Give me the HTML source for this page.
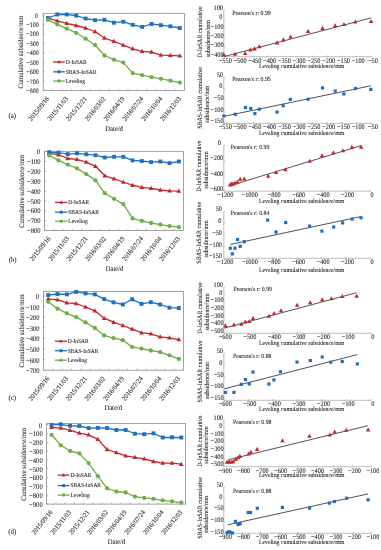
<!DOCTYPE html>
<html><head><meta charset="utf-8"><style>
html,body{margin:0;padding:0;background:#fff;}
svg{display:block;filter:blur(0.55px);}
text{font-family:"Liberation Serif",serif;stroke:#222;stroke-width:0.08px;text-rendering:geometricPrecision;}
</style></head><body>
<svg width="381" height="550" viewBox="0 0 381 550">
<rect width="381" height="550" fill="#fff"/>
<rect x="43.2" y="13.3" width="141.3" height="77.2" fill="none" stroke="#8a8a8a" stroke-width="0.8"/>
<line x1="43.2" y1="15.2" x2="44.8" y2="15.2" stroke="#8a8a8a" stroke-width="0.6"/>
<text x="38.1" y="17.5" font-size="6.6" text-anchor="end" fill="#1a1a1a" textLength="3" lengthAdjust="spacingAndGlyphs">0</text>
<line x1="43.2" y1="24.63" x2="44.8" y2="24.63" stroke="#8a8a8a" stroke-width="0.6"/>
<text x="38.7" y="26.93" font-size="6.6" text-anchor="end" fill="#1a1a1a" textLength="12.38" lengthAdjust="spacingAndGlyphs">−100</text>
<line x1="43.2" y1="34.06" x2="44.8" y2="34.06" stroke="#8a8a8a" stroke-width="0.6"/>
<text x="38.7" y="36.36" font-size="6.6" text-anchor="end" fill="#1a1a1a" textLength="12.38" lengthAdjust="spacingAndGlyphs">−200</text>
<line x1="43.2" y1="43.49" x2="44.8" y2="43.49" stroke="#8a8a8a" stroke-width="0.6"/>
<text x="38.7" y="45.79" font-size="6.6" text-anchor="end" fill="#1a1a1a" textLength="12.38" lengthAdjust="spacingAndGlyphs">−300</text>
<line x1="43.2" y1="52.92" x2="44.8" y2="52.92" stroke="#8a8a8a" stroke-width="0.6"/>
<text x="38.7" y="55.22" font-size="6.6" text-anchor="end" fill="#1a1a1a" textLength="12.38" lengthAdjust="spacingAndGlyphs">−400</text>
<line x1="43.2" y1="62.35" x2="44.8" y2="62.35" stroke="#8a8a8a" stroke-width="0.6"/>
<text x="38.7" y="64.65" font-size="6.6" text-anchor="end" fill="#1a1a1a" textLength="12.38" lengthAdjust="spacingAndGlyphs">−500</text>
<line x1="43.2" y1="71.78" x2="44.8" y2="71.78" stroke="#8a8a8a" stroke-width="0.6"/>
<text x="38.7" y="74.08" font-size="6.6" text-anchor="end" fill="#1a1a1a" textLength="12.38" lengthAdjust="spacingAndGlyphs">−600</text>
<line x1="43.2" y1="81.21" x2="44.8" y2="81.21" stroke="#8a8a8a" stroke-width="0.6"/>
<text x="38.7" y="83.51" font-size="6.6" text-anchor="end" fill="#1a1a1a" textLength="12.38" lengthAdjust="spacingAndGlyphs">−700</text>
<line x1="43.2" y1="90.64" x2="44.8" y2="90.64" stroke="#8a8a8a" stroke-width="0.6"/>
<text x="38.7" y="92.94" font-size="6.6" text-anchor="end" fill="#1a1a1a" textLength="12.38" lengthAdjust="spacingAndGlyphs">−800</text>
<line x1="52.62" y1="90.5" x2="52.62" y2="88.9" stroke="#8a8a8a" stroke-width="0.6"/>
<line x1="62.04" y1="90.5" x2="62.04" y2="88.9" stroke="#8a8a8a" stroke-width="0.6"/>
<line x1="71.46" y1="90.5" x2="71.46" y2="88.9" stroke="#8a8a8a" stroke-width="0.6"/>
<line x1="80.88" y1="90.5" x2="80.88" y2="88.9" stroke="#8a8a8a" stroke-width="0.6"/>
<line x1="90.3" y1="90.5" x2="90.3" y2="88.9" stroke="#8a8a8a" stroke-width="0.6"/>
<line x1="99.72" y1="90.5" x2="99.72" y2="88.9" stroke="#8a8a8a" stroke-width="0.6"/>
<line x1="109.14" y1="90.5" x2="109.14" y2="88.9" stroke="#8a8a8a" stroke-width="0.6"/>
<line x1="118.56" y1="90.5" x2="118.56" y2="88.9" stroke="#8a8a8a" stroke-width="0.6"/>
<line x1="127.98" y1="90.5" x2="127.98" y2="88.9" stroke="#8a8a8a" stroke-width="0.6"/>
<line x1="137.4" y1="90.5" x2="137.4" y2="88.9" stroke="#8a8a8a" stroke-width="0.6"/>
<line x1="146.82" y1="90.5" x2="146.82" y2="88.9" stroke="#8a8a8a" stroke-width="0.6"/>
<line x1="156.24" y1="90.5" x2="156.24" y2="88.9" stroke="#8a8a8a" stroke-width="0.6"/>
<line x1="165.66" y1="90.5" x2="165.66" y2="88.9" stroke="#8a8a8a" stroke-width="0.6"/>
<line x1="175.08" y1="90.5" x2="175.08" y2="88.9" stroke="#8a8a8a" stroke-width="0.6"/>
<text x="49.61" y="99" font-size="6.99" text-anchor="end" fill="#1a1a1a" transform="rotate(-51 49.61 99)" textLength="28.93" lengthAdjust="spacingAndGlyphs">2015/09/16</text>
<text x="68.45" y="99" font-size="6.99" text-anchor="end" fill="#1a1a1a" transform="rotate(-51 68.45 99)" textLength="28.69" lengthAdjust="spacingAndGlyphs">2015/11/03</text>
<text x="87.29" y="99" font-size="6.99" text-anchor="end" fill="#1a1a1a" transform="rotate(-51 87.29 99)" textLength="28.93" lengthAdjust="spacingAndGlyphs">2015/12/21</text>
<text x="106.13" y="99" font-size="6.99" text-anchor="end" fill="#1a1a1a" transform="rotate(-51 106.13 99)" textLength="28.93" lengthAdjust="spacingAndGlyphs">2016/03/02</text>
<text x="124.97" y="99" font-size="6.99" text-anchor="end" fill="#1a1a1a" transform="rotate(-51 124.97 99)" textLength="28.93" lengthAdjust="spacingAndGlyphs">2016/04/19</text>
<text x="143.81" y="99" font-size="6.99" text-anchor="end" fill="#1a1a1a" transform="rotate(-51 143.81 99)" textLength="28.93" lengthAdjust="spacingAndGlyphs">2016/07/24</text>
<text x="162.65" y="99" font-size="6.99" text-anchor="end" fill="#1a1a1a" transform="rotate(-51 162.65 99)" textLength="28.93" lengthAdjust="spacingAndGlyphs">2016/10/04</text>
<text x="181.49" y="99" font-size="6.99" text-anchor="end" fill="#1a1a1a" transform="rotate(-51 181.49 99)" textLength="28.93" lengthAdjust="spacingAndGlyphs">2016/12/03</text>
<polyline points="47.91,18.1 57.33,20.8 66.75,23.3 76.17,25.5 85.59,28 95.01,31.5 104.43,38 113.85,41.4 123.27,45 132.69,48.8 142.11,51.3 151.53,52.1 160.95,55.1 170.37,55.3 179.79,55.9" fill="none" stroke="#C0282D" stroke-width="1.3" stroke-linejoin="round"/>
<path d="M47.91 15.56L50.26 19.79L45.56 19.79Z" fill="#C0282D"/>
<path d="M57.33 18.26L59.68 22.49L54.98 22.49Z" fill="#C0282D"/>
<path d="M66.75 20.76L69.1 24.99L64.4 24.99Z" fill="#C0282D"/>
<path d="M76.17 22.96L78.52 27.19L73.82 27.19Z" fill="#C0282D"/>
<path d="M85.59 25.46L87.94 29.69L83.24 29.69Z" fill="#C0282D"/>
<path d="M95.01 28.96L97.36 33.19L92.66 33.19Z" fill="#C0282D"/>
<path d="M104.43 35.46L106.78 39.69L102.08 39.69Z" fill="#C0282D"/>
<path d="M113.85 38.86L116.2 43.09L111.5 43.09Z" fill="#C0282D"/>
<path d="M123.27 42.46L125.62 46.69L120.92 46.69Z" fill="#C0282D"/>
<path d="M132.69 46.26L135.04 50.49L130.34 50.49Z" fill="#C0282D"/>
<path d="M142.11 48.76L144.46 52.99L139.76 52.99Z" fill="#C0282D"/>
<path d="M151.53 49.56L153.88 53.79L149.18 53.79Z" fill="#C0282D"/>
<path d="M160.95 52.56L163.3 56.79L158.6 56.79Z" fill="#C0282D"/>
<path d="M170.37 52.76L172.72 56.99L168.02 56.99Z" fill="#C0282D"/>
<path d="M179.79 53.36L182.14 57.59L177.44 57.59Z" fill="#C0282D"/>
<polyline points="47.91,18.1 57.33,14.5 66.75,14.5 76.17,15.6 85.59,18.5 95.01,20.2 104.43,19.8 113.85,22.7 123.27,21.7 132.69,24.8 142.11,26.9 151.53,24 160.95,25.2 170.37,26.3 179.79,28" fill="none" stroke="#1F6FC0" stroke-width="1.3" stroke-linejoin="round"/>
<rect x="45.96" y="16.15" width="3.9" height="3.9" fill="#1F6FC0"/>
<rect x="55.38" y="12.55" width="3.9" height="3.9" fill="#1F6FC0"/>
<rect x="64.8" y="12.55" width="3.9" height="3.9" fill="#1F6FC0"/>
<rect x="74.22" y="13.65" width="3.9" height="3.9" fill="#1F6FC0"/>
<rect x="83.64" y="16.55" width="3.9" height="3.9" fill="#1F6FC0"/>
<rect x="93.06" y="18.25" width="3.9" height="3.9" fill="#1F6FC0"/>
<rect x="102.48" y="17.85" width="3.9" height="3.9" fill="#1F6FC0"/>
<rect x="111.9" y="20.75" width="3.9" height="3.9" fill="#1F6FC0"/>
<rect x="121.32" y="19.75" width="3.9" height="3.9" fill="#1F6FC0"/>
<rect x="130.74" y="22.85" width="3.9" height="3.9" fill="#1F6FC0"/>
<rect x="140.16" y="24.95" width="3.9" height="3.9" fill="#1F6FC0"/>
<rect x="149.58" y="22.05" width="3.9" height="3.9" fill="#1F6FC0"/>
<rect x="159" y="23.25" width="3.9" height="3.9" fill="#1F6FC0"/>
<rect x="168.42" y="24.35" width="3.9" height="3.9" fill="#1F6FC0"/>
<rect x="177.84" y="26.05" width="3.9" height="3.9" fill="#1F6FC0"/>
<polyline points="47.91,19.8 57.33,24.4 66.75,28.6 76.17,32.8 85.59,38.7 95.01,45 104.43,55.5 113.85,59.7 123.27,62.6 132.69,73.1 142.11,75.2 151.53,77.1 160.95,78.8 170.37,80.7 179.79,82.6" fill="none" stroke="#6FAE45" stroke-width="1.3" stroke-linejoin="round"/>
<circle cx="47.91" cy="19.8" r="2.15" fill="#6FAE45"/>
<circle cx="57.33" cy="24.4" r="2.15" fill="#6FAE45"/>
<circle cx="66.75" cy="28.6" r="2.15" fill="#6FAE45"/>
<circle cx="76.17" cy="32.8" r="2.15" fill="#6FAE45"/>
<circle cx="85.59" cy="38.7" r="2.15" fill="#6FAE45"/>
<circle cx="95.01" cy="45" r="2.15" fill="#6FAE45"/>
<circle cx="104.43" cy="55.5" r="2.15" fill="#6FAE45"/>
<circle cx="113.85" cy="59.7" r="2.15" fill="#6FAE45"/>
<circle cx="123.27" cy="62.6" r="2.15" fill="#6FAE45"/>
<circle cx="132.69" cy="73.1" r="2.15" fill="#6FAE45"/>
<circle cx="142.11" cy="75.2" r="2.15" fill="#6FAE45"/>
<circle cx="151.53" cy="77.1" r="2.15" fill="#6FAE45"/>
<circle cx="160.95" cy="78.8" r="2.15" fill="#6FAE45"/>
<circle cx="170.37" cy="80.7" r="2.15" fill="#6FAE45"/>
<circle cx="179.79" cy="82.6" r="2.15" fill="#6FAE45"/>
<line x1="53.1" y1="62" x2="64.9" y2="62" stroke="#C0282D" stroke-width="1.3"/>
<path d="M59 60L60.85 63.33L57.15 63.33Z" fill="#C0282D"/>
<text x="65.7" y="63.8" font-size="6" text-anchor="start" fill="#1a1a1a" textLength="20.89" lengthAdjust="spacingAndGlyphs">D-InSAR</text>
<line x1="53.1" y1="71.8" x2="64.9" y2="71.8" stroke="#1F6FC0" stroke-width="1.3"/>
<rect x="57.5" y="70.3" width="3" height="3" fill="#1F6FC0"/>
<text x="65.7" y="73.6" font-size="6" text-anchor="start" fill="#1a1a1a" textLength="30.59" lengthAdjust="spacingAndGlyphs">SBAS-InSAR</text>
<line x1="53.1" y1="81" x2="64.9" y2="81" stroke="#6FAE45" stroke-width="1.3"/>
<circle cx="59" cy="81" r="1.75" fill="#6FAE45"/>
<text x="65.7" y="82.8" font-size="6" text-anchor="start" fill="#1a1a1a" textLength="19.37" lengthAdjust="spacingAndGlyphs">Leveling</text>
<text x="23" y="52.05" font-size="7.21" text-anchor="middle" fill="#1a1a1a" transform="rotate(-90 23 52.05)" textLength="72.95" lengthAdjust="spacingAndGlyphs">Cumulative subsidence/mm</text>
<text x="105.2" y="130.7" font-size="7.26" text-anchor="start" fill="#1a1a1a" textLength="17.59" lengthAdjust="spacingAndGlyphs">Date/d</text>
<text x="8.5" y="117.9" font-size="7.48" text-anchor="start" fill="#1a1a1a" textLength="7.55" lengthAdjust="spacingAndGlyphs">(a)</text>
<rect x="44.6" y="151.3" width="138.9" height="79.1" fill="none" stroke="#8a8a8a" stroke-width="0.8"/>
<line x1="44.6" y1="151.7" x2="46.2" y2="151.7" stroke="#8a8a8a" stroke-width="0.6"/>
<text x="40" y="154.25" font-size="7.26" text-anchor="end" fill="#1a1a1a" textLength="3.3" lengthAdjust="spacingAndGlyphs">0</text>
<line x1="44.6" y1="161.55" x2="46.2" y2="161.55" stroke="#8a8a8a" stroke-width="0.6"/>
<text x="40.6" y="164.1" font-size="7.26" text-anchor="end" fill="#1a1a1a" textLength="13.62" lengthAdjust="spacingAndGlyphs">−100</text>
<line x1="44.6" y1="171.4" x2="46.2" y2="171.4" stroke="#8a8a8a" stroke-width="0.6"/>
<text x="40.6" y="173.95" font-size="7.26" text-anchor="end" fill="#1a1a1a" textLength="13.62" lengthAdjust="spacingAndGlyphs">−200</text>
<line x1="44.6" y1="181.25" x2="46.2" y2="181.25" stroke="#8a8a8a" stroke-width="0.6"/>
<text x="40.6" y="183.8" font-size="7.26" text-anchor="end" fill="#1a1a1a" textLength="13.62" lengthAdjust="spacingAndGlyphs">−300</text>
<line x1="44.6" y1="191.1" x2="46.2" y2="191.1" stroke="#8a8a8a" stroke-width="0.6"/>
<text x="40.6" y="193.65" font-size="7.26" text-anchor="end" fill="#1a1a1a" textLength="13.62" lengthAdjust="spacingAndGlyphs">−400</text>
<line x1="44.6" y1="200.95" x2="46.2" y2="200.95" stroke="#8a8a8a" stroke-width="0.6"/>
<text x="40.6" y="203.5" font-size="7.26" text-anchor="end" fill="#1a1a1a" textLength="13.62" lengthAdjust="spacingAndGlyphs">−500</text>
<line x1="44.6" y1="210.8" x2="46.2" y2="210.8" stroke="#8a8a8a" stroke-width="0.6"/>
<text x="40.6" y="213.35" font-size="7.26" text-anchor="end" fill="#1a1a1a" textLength="13.62" lengthAdjust="spacingAndGlyphs">−600</text>
<line x1="44.6" y1="220.65" x2="46.2" y2="220.65" stroke="#8a8a8a" stroke-width="0.6"/>
<text x="40.6" y="223.2" font-size="7.26" text-anchor="end" fill="#1a1a1a" textLength="13.62" lengthAdjust="spacingAndGlyphs">−700</text>
<line x1="44.6" y1="230.5" x2="46.2" y2="230.5" stroke="#8a8a8a" stroke-width="0.6"/>
<text x="40.6" y="233.05" font-size="7.26" text-anchor="end" fill="#1a1a1a" textLength="13.62" lengthAdjust="spacingAndGlyphs">−800</text>
<line x1="53.86" y1="230.4" x2="53.86" y2="228.8" stroke="#8a8a8a" stroke-width="0.6"/>
<line x1="63.12" y1="230.4" x2="63.12" y2="228.8" stroke="#8a8a8a" stroke-width="0.6"/>
<line x1="72.38" y1="230.4" x2="72.38" y2="228.8" stroke="#8a8a8a" stroke-width="0.6"/>
<line x1="81.64" y1="230.4" x2="81.64" y2="228.8" stroke="#8a8a8a" stroke-width="0.6"/>
<line x1="90.9" y1="230.4" x2="90.9" y2="228.8" stroke="#8a8a8a" stroke-width="0.6"/>
<line x1="100.16" y1="230.4" x2="100.16" y2="228.8" stroke="#8a8a8a" stroke-width="0.6"/>
<line x1="109.42" y1="230.4" x2="109.42" y2="228.8" stroke="#8a8a8a" stroke-width="0.6"/>
<line x1="118.68" y1="230.4" x2="118.68" y2="228.8" stroke="#8a8a8a" stroke-width="0.6"/>
<line x1="127.94" y1="230.4" x2="127.94" y2="228.8" stroke="#8a8a8a" stroke-width="0.6"/>
<line x1="137.2" y1="230.4" x2="137.2" y2="228.8" stroke="#8a8a8a" stroke-width="0.6"/>
<line x1="146.46" y1="230.4" x2="146.46" y2="228.8" stroke="#8a8a8a" stroke-width="0.6"/>
<line x1="155.72" y1="230.4" x2="155.72" y2="228.8" stroke="#8a8a8a" stroke-width="0.6"/>
<line x1="164.98" y1="230.4" x2="164.98" y2="228.8" stroke="#8a8a8a" stroke-width="0.6"/>
<line x1="174.24" y1="230.4" x2="174.24" y2="228.8" stroke="#8a8a8a" stroke-width="0.6"/>
<text x="50.93" y="238.9" font-size="6.99" text-anchor="end" fill="#1a1a1a" transform="rotate(-51 50.93 238.9)" textLength="28.93" lengthAdjust="spacingAndGlyphs">2015/09/16</text>
<text x="69.45" y="238.9" font-size="6.99" text-anchor="end" fill="#1a1a1a" transform="rotate(-51 69.45 238.9)" textLength="28.69" lengthAdjust="spacingAndGlyphs">2015/11/03</text>
<text x="87.97" y="238.9" font-size="6.99" text-anchor="end" fill="#1a1a1a" transform="rotate(-51 87.97 238.9)" textLength="28.93" lengthAdjust="spacingAndGlyphs">2015/12/21</text>
<text x="106.49" y="238.9" font-size="6.99" text-anchor="end" fill="#1a1a1a" transform="rotate(-51 106.49 238.9)" textLength="28.93" lengthAdjust="spacingAndGlyphs">2016/03/02</text>
<text x="125.01" y="238.9" font-size="6.99" text-anchor="end" fill="#1a1a1a" transform="rotate(-51 125.01 238.9)" textLength="28.93" lengthAdjust="spacingAndGlyphs">2016/04/19</text>
<text x="143.53" y="238.9" font-size="6.99" text-anchor="end" fill="#1a1a1a" transform="rotate(-51 143.53 238.9)" textLength="28.93" lengthAdjust="spacingAndGlyphs">2016/07/24</text>
<text x="162.05" y="238.9" font-size="6.99" text-anchor="end" fill="#1a1a1a" transform="rotate(-51 162.05 238.9)" textLength="28.93" lengthAdjust="spacingAndGlyphs">2016/10/04</text>
<text x="180.57" y="238.9" font-size="6.99" text-anchor="end" fill="#1a1a1a" transform="rotate(-51 180.57 238.9)" textLength="28.93" lengthAdjust="spacingAndGlyphs">2016/12/03</text>
<polyline points="49.23,153.3 58.49,154.7 67.75,158.5 77.01,159.4 86.27,162.1 95.53,166.3 104.79,175.7 114.05,178.9 123.31,182 132.57,185.2 141.83,187.3 151.09,188.3 160.35,190 169.61,190.9 178.87,191.1" fill="none" stroke="#C0282D" stroke-width="1.3" stroke-linejoin="round"/>
<path d="M49.23 150.76L51.58 154.99L46.88 154.99Z" fill="#C0282D"/>
<path d="M58.49 152.16L60.84 156.39L56.14 156.39Z" fill="#C0282D"/>
<path d="M67.75 155.96L70.1 160.19L65.4 160.19Z" fill="#C0282D"/>
<path d="M77.01 156.86L79.36 161.09L74.66 161.09Z" fill="#C0282D"/>
<path d="M86.27 159.56L88.62 163.79L83.92 163.79Z" fill="#C0282D"/>
<path d="M95.53 163.76L97.88 167.99L93.18 167.99Z" fill="#C0282D"/>
<path d="M104.79 173.16L107.14 177.39L102.44 177.39Z" fill="#C0282D"/>
<path d="M114.05 176.36L116.4 180.59L111.7 180.59Z" fill="#C0282D"/>
<path d="M123.31 179.46L125.66 183.69L120.96 183.69Z" fill="#C0282D"/>
<path d="M132.57 182.66L134.92 186.89L130.22 186.89Z" fill="#C0282D"/>
<path d="M141.83 184.76L144.18 188.99L139.48 188.99Z" fill="#C0282D"/>
<path d="M151.09 185.76L153.44 189.99L148.74 189.99Z" fill="#C0282D"/>
<path d="M160.35 187.46L162.7 191.69L158 191.69Z" fill="#C0282D"/>
<path d="M169.61 188.36L171.96 192.59L167.26 192.59Z" fill="#C0282D"/>
<path d="M178.87 188.56L181.22 192.79L176.52 192.79Z" fill="#C0282D"/>
<polyline points="49.23,152.2 58.49,152.6 67.75,154.1 77.01,153.3 86.27,154.3 95.53,155.2 104.79,157.5 114.05,156.8 123.31,156.8 132.57,160.4 141.83,161 151.09,162.1 160.35,161.5 169.61,163.1 178.87,161.5" fill="none" stroke="#1F6FC0" stroke-width="1.3" stroke-linejoin="round"/>
<rect x="47.28" y="150.25" width="3.9" height="3.9" fill="#1F6FC0"/>
<rect x="56.54" y="150.65" width="3.9" height="3.9" fill="#1F6FC0"/>
<rect x="65.8" y="152.15" width="3.9" height="3.9" fill="#1F6FC0"/>
<rect x="75.06" y="151.35" width="3.9" height="3.9" fill="#1F6FC0"/>
<rect x="84.32" y="152.35" width="3.9" height="3.9" fill="#1F6FC0"/>
<rect x="93.58" y="153.25" width="3.9" height="3.9" fill="#1F6FC0"/>
<rect x="102.84" y="155.55" width="3.9" height="3.9" fill="#1F6FC0"/>
<rect x="112.1" y="154.85" width="3.9" height="3.9" fill="#1F6FC0"/>
<rect x="121.36" y="154.85" width="3.9" height="3.9" fill="#1F6FC0"/>
<rect x="130.62" y="158.45" width="3.9" height="3.9" fill="#1F6FC0"/>
<rect x="139.88" y="159.05" width="3.9" height="3.9" fill="#1F6FC0"/>
<rect x="149.14" y="160.15" width="3.9" height="3.9" fill="#1F6FC0"/>
<rect x="158.4" y="159.55" width="3.9" height="3.9" fill="#1F6FC0"/>
<rect x="167.66" y="161.15" width="3.9" height="3.9" fill="#1F6FC0"/>
<rect x="176.92" y="159.55" width="3.9" height="3.9" fill="#1F6FC0"/>
<polyline points="49.23,155.4 58.49,160.4 67.75,164.6 77.01,168.4 86.27,174.1 95.53,180.4 104.79,193.2 114.05,198.8 123.31,204.1 132.57,218.4 141.83,220.9 151.09,223 160.35,224.7 169.61,226.1 178.87,227.2" fill="none" stroke="#6FAE45" stroke-width="1.3" stroke-linejoin="round"/>
<circle cx="49.23" cy="155.4" r="2.15" fill="#6FAE45"/>
<circle cx="58.49" cy="160.4" r="2.15" fill="#6FAE45"/>
<circle cx="67.75" cy="164.6" r="2.15" fill="#6FAE45"/>
<circle cx="77.01" cy="168.4" r="2.15" fill="#6FAE45"/>
<circle cx="86.27" cy="174.1" r="2.15" fill="#6FAE45"/>
<circle cx="95.53" cy="180.4" r="2.15" fill="#6FAE45"/>
<circle cx="104.79" cy="193.2" r="2.15" fill="#6FAE45"/>
<circle cx="114.05" cy="198.8" r="2.15" fill="#6FAE45"/>
<circle cx="123.31" cy="204.1" r="2.15" fill="#6FAE45"/>
<circle cx="132.57" cy="218.4" r="2.15" fill="#6FAE45"/>
<circle cx="141.83" cy="220.9" r="2.15" fill="#6FAE45"/>
<circle cx="151.09" cy="223" r="2.15" fill="#6FAE45"/>
<circle cx="160.35" cy="224.7" r="2.15" fill="#6FAE45"/>
<circle cx="169.61" cy="226.1" r="2.15" fill="#6FAE45"/>
<circle cx="178.87" cy="227.2" r="2.15" fill="#6FAE45"/>
<line x1="55" y1="202.4" x2="67.5" y2="202.4" stroke="#C0282D" stroke-width="1.3"/>
<path d="M61.25 200.4L63.1 203.73L59.4 203.73Z" fill="#C0282D"/>
<text x="68.3" y="204.2" font-size="6" text-anchor="start" fill="#1a1a1a" textLength="20.89" lengthAdjust="spacingAndGlyphs">D-InSAR</text>
<line x1="55" y1="212.2" x2="67.5" y2="212.2" stroke="#1F6FC0" stroke-width="1.3"/>
<rect x="59.75" y="210.7" width="3" height="3" fill="#1F6FC0"/>
<text x="68.3" y="214" font-size="6" text-anchor="start" fill="#1a1a1a" textLength="30.59" lengthAdjust="spacingAndGlyphs">SBAS-InSAR</text>
<line x1="55" y1="221.2" x2="67.5" y2="221.2" stroke="#6FAE45" stroke-width="1.3"/>
<circle cx="61.25" cy="221.2" r="1.75" fill="#6FAE45"/>
<text x="68.3" y="223" font-size="6" text-anchor="start" fill="#1a1a1a" textLength="19.37" lengthAdjust="spacingAndGlyphs">Leveling</text>
<text x="24.3" y="191.4" font-size="7.21" text-anchor="middle" fill="#1a1a1a" transform="rotate(-90 24.3 191.4)" textLength="72.95" lengthAdjust="spacingAndGlyphs">Cumulative subsidence/mm</text>
<text x="105.7" y="270.9" font-size="7.26" text-anchor="start" fill="#1a1a1a" textLength="17.59" lengthAdjust="spacingAndGlyphs">Date/d</text>
<text x="8.7" y="261.7" font-size="7.48" text-anchor="start" fill="#1a1a1a" textLength="7.93" lengthAdjust="spacingAndGlyphs">(b)</text>
<rect x="43.5" y="291.5" width="140" height="78.7" fill="none" stroke="#8a8a8a" stroke-width="0.8"/>
<line x1="43.5" y1="296" x2="45.1" y2="296" stroke="#8a8a8a" stroke-width="0.6"/>
<text x="39" y="299" font-size="7.26" text-anchor="end" fill="#1a1a1a" textLength="3.3" lengthAdjust="spacingAndGlyphs">0</text>
<line x1="43.5" y1="306.6" x2="45.1" y2="306.6" stroke="#8a8a8a" stroke-width="0.6"/>
<text x="39.6" y="309.6" font-size="7.26" text-anchor="end" fill="#1a1a1a" textLength="13.62" lengthAdjust="spacingAndGlyphs">−100</text>
<line x1="43.5" y1="317.2" x2="45.1" y2="317.2" stroke="#8a8a8a" stroke-width="0.6"/>
<text x="39.6" y="320.2" font-size="7.26" text-anchor="end" fill="#1a1a1a" textLength="13.62" lengthAdjust="spacingAndGlyphs">−200</text>
<line x1="43.5" y1="327.8" x2="45.1" y2="327.8" stroke="#8a8a8a" stroke-width="0.6"/>
<text x="39.6" y="330.8" font-size="7.26" text-anchor="end" fill="#1a1a1a" textLength="13.62" lengthAdjust="spacingAndGlyphs">−300</text>
<line x1="43.5" y1="338.4" x2="45.1" y2="338.4" stroke="#8a8a8a" stroke-width="0.6"/>
<text x="39.6" y="341.4" font-size="7.26" text-anchor="end" fill="#1a1a1a" textLength="13.62" lengthAdjust="spacingAndGlyphs">−400</text>
<line x1="43.5" y1="349" x2="45.1" y2="349" stroke="#8a8a8a" stroke-width="0.6"/>
<text x="39.6" y="352" font-size="7.26" text-anchor="end" fill="#1a1a1a" textLength="13.62" lengthAdjust="spacingAndGlyphs">−500</text>
<line x1="43.5" y1="359.6" x2="45.1" y2="359.6" stroke="#8a8a8a" stroke-width="0.6"/>
<text x="39.6" y="362.6" font-size="7.26" text-anchor="end" fill="#1a1a1a" textLength="13.62" lengthAdjust="spacingAndGlyphs">−600</text>
<line x1="43.5" y1="370.2" x2="45.1" y2="370.2" stroke="#8a8a8a" stroke-width="0.6"/>
<text x="39.6" y="373.2" font-size="7.26" text-anchor="end" fill="#1a1a1a" textLength="13.62" lengthAdjust="spacingAndGlyphs">−700</text>
<line x1="52.83" y1="370.2" x2="52.83" y2="368.6" stroke="#8a8a8a" stroke-width="0.6"/>
<line x1="62.17" y1="370.2" x2="62.17" y2="368.6" stroke="#8a8a8a" stroke-width="0.6"/>
<line x1="71.5" y1="370.2" x2="71.5" y2="368.6" stroke="#8a8a8a" stroke-width="0.6"/>
<line x1="80.83" y1="370.2" x2="80.83" y2="368.6" stroke="#8a8a8a" stroke-width="0.6"/>
<line x1="90.17" y1="370.2" x2="90.17" y2="368.6" stroke="#8a8a8a" stroke-width="0.6"/>
<line x1="99.5" y1="370.2" x2="99.5" y2="368.6" stroke="#8a8a8a" stroke-width="0.6"/>
<line x1="108.83" y1="370.2" x2="108.83" y2="368.6" stroke="#8a8a8a" stroke-width="0.6"/>
<line x1="118.17" y1="370.2" x2="118.17" y2="368.6" stroke="#8a8a8a" stroke-width="0.6"/>
<line x1="127.5" y1="370.2" x2="127.5" y2="368.6" stroke="#8a8a8a" stroke-width="0.6"/>
<line x1="136.83" y1="370.2" x2="136.83" y2="368.6" stroke="#8a8a8a" stroke-width="0.6"/>
<line x1="146.17" y1="370.2" x2="146.17" y2="368.6" stroke="#8a8a8a" stroke-width="0.6"/>
<line x1="155.5" y1="370.2" x2="155.5" y2="368.6" stroke="#8a8a8a" stroke-width="0.6"/>
<line x1="164.83" y1="370.2" x2="164.83" y2="368.6" stroke="#8a8a8a" stroke-width="0.6"/>
<line x1="174.17" y1="370.2" x2="174.17" y2="368.6" stroke="#8a8a8a" stroke-width="0.6"/>
<text x="49.87" y="378.7" font-size="6.99" text-anchor="end" fill="#1a1a1a" transform="rotate(-51 49.87 378.7)" textLength="28.93" lengthAdjust="spacingAndGlyphs">2015/09/16</text>
<text x="68.53" y="378.7" font-size="6.99" text-anchor="end" fill="#1a1a1a" transform="rotate(-51 68.53 378.7)" textLength="28.69" lengthAdjust="spacingAndGlyphs">2015/11/03</text>
<text x="87.2" y="378.7" font-size="6.99" text-anchor="end" fill="#1a1a1a" transform="rotate(-51 87.2 378.7)" textLength="28.93" lengthAdjust="spacingAndGlyphs">2015/12/21</text>
<text x="105.87" y="378.7" font-size="6.99" text-anchor="end" fill="#1a1a1a" transform="rotate(-51 105.87 378.7)" textLength="28.93" lengthAdjust="spacingAndGlyphs">2016/03/02</text>
<text x="124.53" y="378.7" font-size="6.99" text-anchor="end" fill="#1a1a1a" transform="rotate(-51 124.53 378.7)" textLength="28.93" lengthAdjust="spacingAndGlyphs">2016/04/19</text>
<text x="143.2" y="378.7" font-size="6.99" text-anchor="end" fill="#1a1a1a" transform="rotate(-51 143.2 378.7)" textLength="28.93" lengthAdjust="spacingAndGlyphs">2016/07/24</text>
<text x="161.87" y="378.7" font-size="6.99" text-anchor="end" fill="#1a1a1a" transform="rotate(-51 161.87 378.7)" textLength="28.93" lengthAdjust="spacingAndGlyphs">2016/10/04</text>
<text x="180.53" y="378.7" font-size="6.99" text-anchor="end" fill="#1a1a1a" transform="rotate(-51 180.53 378.7)" textLength="28.93" lengthAdjust="spacingAndGlyphs">2016/12/03</text>
<polyline points="48.17,299.1 57.5,299.7 66.83,302.8 76.17,303.5 85.5,307 94.83,310.8 104.17,318.2 113.5,322.2 122.83,325.5 132.17,329.1 141.5,332.7 150.83,333.9 160.17,336.9 169.5,337.9 178.83,339.6" fill="none" stroke="#C0282D" stroke-width="1.3" stroke-linejoin="round"/>
<path d="M48.17 296.56L50.52 300.79L45.82 300.79Z" fill="#C0282D"/>
<path d="M57.5 297.16L59.85 301.39L55.15 301.39Z" fill="#C0282D"/>
<path d="M66.83 300.26L69.18 304.49L64.48 304.49Z" fill="#C0282D"/>
<path d="M76.17 300.96L78.52 305.19L73.82 305.19Z" fill="#C0282D"/>
<path d="M85.5 304.46L87.85 308.69L83.15 308.69Z" fill="#C0282D"/>
<path d="M94.83 308.26L97.18 312.49L92.48 312.49Z" fill="#C0282D"/>
<path d="M104.17 315.66L106.52 319.89L101.82 319.89Z" fill="#C0282D"/>
<path d="M113.5 319.66L115.85 323.89L111.15 323.89Z" fill="#C0282D"/>
<path d="M122.83 322.96L125.18 327.19L120.48 327.19Z" fill="#C0282D"/>
<path d="M132.17 326.56L134.52 330.79L129.82 330.79Z" fill="#C0282D"/>
<path d="M141.5 330.16L143.85 334.39L139.15 334.39Z" fill="#C0282D"/>
<path d="M150.83 331.36L153.18 335.59L148.48 335.59Z" fill="#C0282D"/>
<path d="M160.17 334.36L162.52 338.59L157.82 338.59Z" fill="#C0282D"/>
<path d="M169.5 335.36L171.85 339.59L167.15 339.59Z" fill="#C0282D"/>
<path d="M178.83 337.06L181.18 341.29L176.48 341.29Z" fill="#C0282D"/>
<polyline points="48.17,295.1 57.5,294 66.83,294.4 76.17,291.9 85.5,293.4 94.83,294.4 104.17,299.1 113.5,302.4 122.83,304.5 132.17,299.3 141.5,303.9 150.83,302.2 160.17,304.5 169.5,307.7 178.83,308.1" fill="none" stroke="#1F6FC0" stroke-width="1.3" stroke-linejoin="round"/>
<rect x="46.22" y="293.15" width="3.9" height="3.9" fill="#1F6FC0"/>
<rect x="55.55" y="292.05" width="3.9" height="3.9" fill="#1F6FC0"/>
<rect x="64.88" y="292.45" width="3.9" height="3.9" fill="#1F6FC0"/>
<rect x="74.22" y="289.95" width="3.9" height="3.9" fill="#1F6FC0"/>
<rect x="83.55" y="291.45" width="3.9" height="3.9" fill="#1F6FC0"/>
<rect x="92.88" y="292.45" width="3.9" height="3.9" fill="#1F6FC0"/>
<rect x="102.22" y="297.15" width="3.9" height="3.9" fill="#1F6FC0"/>
<rect x="111.55" y="300.45" width="3.9" height="3.9" fill="#1F6FC0"/>
<rect x="120.88" y="302.55" width="3.9" height="3.9" fill="#1F6FC0"/>
<rect x="130.22" y="297.35" width="3.9" height="3.9" fill="#1F6FC0"/>
<rect x="139.55" y="301.95" width="3.9" height="3.9" fill="#1F6FC0"/>
<rect x="148.88" y="300.25" width="3.9" height="3.9" fill="#1F6FC0"/>
<rect x="158.22" y="302.55" width="3.9" height="3.9" fill="#1F6FC0"/>
<rect x="167.55" y="305.75" width="3.9" height="3.9" fill="#1F6FC0"/>
<rect x="176.88" y="306.15" width="3.9" height="3.9" fill="#1F6FC0"/>
<polyline points="48.17,301.8 57.5,308.7 66.83,313.3 76.17,317.1 85.5,322.4 94.83,328 104.17,335.4 113.5,338.1 122.83,340.2 132.17,346.9 141.5,348.6 150.83,350.5 160.17,352.2 169.5,355.3 178.83,358.9" fill="none" stroke="#6FAE45" stroke-width="1.3" stroke-linejoin="round"/>
<circle cx="48.17" cy="301.8" r="2.15" fill="#6FAE45"/>
<circle cx="57.5" cy="308.7" r="2.15" fill="#6FAE45"/>
<circle cx="66.83" cy="313.3" r="2.15" fill="#6FAE45"/>
<circle cx="76.17" cy="317.1" r="2.15" fill="#6FAE45"/>
<circle cx="85.5" cy="322.4" r="2.15" fill="#6FAE45"/>
<circle cx="94.83" cy="328" r="2.15" fill="#6FAE45"/>
<circle cx="104.17" cy="335.4" r="2.15" fill="#6FAE45"/>
<circle cx="113.5" cy="338.1" r="2.15" fill="#6FAE45"/>
<circle cx="122.83" cy="340.2" r="2.15" fill="#6FAE45"/>
<circle cx="132.17" cy="346.9" r="2.15" fill="#6FAE45"/>
<circle cx="141.5" cy="348.6" r="2.15" fill="#6FAE45"/>
<circle cx="150.83" cy="350.5" r="2.15" fill="#6FAE45"/>
<circle cx="160.17" cy="352.2" r="2.15" fill="#6FAE45"/>
<circle cx="169.5" cy="355.3" r="2.15" fill="#6FAE45"/>
<circle cx="178.83" cy="358.9" r="2.15" fill="#6FAE45"/>
<line x1="54.9" y1="341.2" x2="66.9" y2="341.2" stroke="#C0282D" stroke-width="1.3"/>
<path d="M60.9 339.2L62.75 342.53L59.05 342.53Z" fill="#C0282D"/>
<text x="67.7" y="343" font-size="6" text-anchor="start" fill="#1a1a1a" textLength="20.89" lengthAdjust="spacingAndGlyphs">D-InSAR</text>
<line x1="54.9" y1="350.7" x2="66.9" y2="350.7" stroke="#1F6FC0" stroke-width="1.3"/>
<rect x="59.4" y="349.2" width="3" height="3" fill="#1F6FC0"/>
<text x="67.7" y="352.5" font-size="6" text-anchor="start" fill="#1a1a1a" textLength="30.59" lengthAdjust="spacingAndGlyphs">SBAS-InSAR</text>
<line x1="54.9" y1="360.2" x2="66.9" y2="360.2" stroke="#6FAE45" stroke-width="1.3"/>
<circle cx="60.9" cy="360.2" r="1.75" fill="#6FAE45"/>
<text x="67.7" y="362" font-size="6" text-anchor="start" fill="#1a1a1a" textLength="19.37" lengthAdjust="spacingAndGlyphs">Leveling</text>
<text x="23.5" y="331" font-size="7.21" text-anchor="middle" fill="#1a1a1a" transform="rotate(-90 23.5 331)" textLength="72.95" lengthAdjust="spacingAndGlyphs">Cumulative subsidence/mm</text>
<text x="104.4" y="410.1" font-size="7.26" text-anchor="start" fill="#1a1a1a" textLength="17.59" lengthAdjust="spacingAndGlyphs">Date/d</text>
<text x="8.5" y="400" font-size="7.48" text-anchor="start" fill="#1a1a1a" textLength="7.55" lengthAdjust="spacingAndGlyphs">(c)</text>
<rect x="46.6" y="423.6" width="139" height="80.5" fill="none" stroke="#8a8a8a" stroke-width="0.8"/>
<line x1="46.6" y1="424.6" x2="48.2" y2="424.6" stroke="#8a8a8a" stroke-width="0.6"/>
<text x="42.1" y="427.6" font-size="7.26" text-anchor="end" fill="#1a1a1a" textLength="3.3" lengthAdjust="spacingAndGlyphs">0</text>
<line x1="46.6" y1="433.41" x2="48.2" y2="433.41" stroke="#8a8a8a" stroke-width="0.6"/>
<text x="42.7" y="436.41" font-size="7.26" text-anchor="end" fill="#1a1a1a" textLength="13.62" lengthAdjust="spacingAndGlyphs">−100</text>
<line x1="46.6" y1="442.22" x2="48.2" y2="442.22" stroke="#8a8a8a" stroke-width="0.6"/>
<text x="42.7" y="445.22" font-size="7.26" text-anchor="end" fill="#1a1a1a" textLength="13.62" lengthAdjust="spacingAndGlyphs">−200</text>
<line x1="46.6" y1="451.03" x2="48.2" y2="451.03" stroke="#8a8a8a" stroke-width="0.6"/>
<text x="42.7" y="454.03" font-size="7.26" text-anchor="end" fill="#1a1a1a" textLength="13.62" lengthAdjust="spacingAndGlyphs">−300</text>
<line x1="46.6" y1="459.84" x2="48.2" y2="459.84" stroke="#8a8a8a" stroke-width="0.6"/>
<text x="42.7" y="462.84" font-size="7.26" text-anchor="end" fill="#1a1a1a" textLength="13.62" lengthAdjust="spacingAndGlyphs">−400</text>
<line x1="46.6" y1="468.65" x2="48.2" y2="468.65" stroke="#8a8a8a" stroke-width="0.6"/>
<text x="42.7" y="471.65" font-size="7.26" text-anchor="end" fill="#1a1a1a" textLength="13.62" lengthAdjust="spacingAndGlyphs">−500</text>
<line x1="46.6" y1="477.46" x2="48.2" y2="477.46" stroke="#8a8a8a" stroke-width="0.6"/>
<text x="42.7" y="480.46" font-size="7.26" text-anchor="end" fill="#1a1a1a" textLength="13.62" lengthAdjust="spacingAndGlyphs">−600</text>
<line x1="46.6" y1="486.27" x2="48.2" y2="486.27" stroke="#8a8a8a" stroke-width="0.6"/>
<text x="42.7" y="489.27" font-size="7.26" text-anchor="end" fill="#1a1a1a" textLength="13.62" lengthAdjust="spacingAndGlyphs">−700</text>
<line x1="46.6" y1="495.08" x2="48.2" y2="495.08" stroke="#8a8a8a" stroke-width="0.6"/>
<text x="42.7" y="498.08" font-size="7.26" text-anchor="end" fill="#1a1a1a" textLength="13.62" lengthAdjust="spacingAndGlyphs">−800</text>
<line x1="46.6" y1="503.89" x2="48.2" y2="503.89" stroke="#8a8a8a" stroke-width="0.6"/>
<text x="42.7" y="506.89" font-size="7.26" text-anchor="end" fill="#1a1a1a" textLength="13.62" lengthAdjust="spacingAndGlyphs">−900</text>
<line x1="55.87" y1="504.1" x2="55.87" y2="502.5" stroke="#8a8a8a" stroke-width="0.6"/>
<line x1="65.13" y1="504.1" x2="65.13" y2="502.5" stroke="#8a8a8a" stroke-width="0.6"/>
<line x1="74.4" y1="504.1" x2="74.4" y2="502.5" stroke="#8a8a8a" stroke-width="0.6"/>
<line x1="83.67" y1="504.1" x2="83.67" y2="502.5" stroke="#8a8a8a" stroke-width="0.6"/>
<line x1="92.93" y1="504.1" x2="92.93" y2="502.5" stroke="#8a8a8a" stroke-width="0.6"/>
<line x1="102.2" y1="504.1" x2="102.2" y2="502.5" stroke="#8a8a8a" stroke-width="0.6"/>
<line x1="111.47" y1="504.1" x2="111.47" y2="502.5" stroke="#8a8a8a" stroke-width="0.6"/>
<line x1="120.73" y1="504.1" x2="120.73" y2="502.5" stroke="#8a8a8a" stroke-width="0.6"/>
<line x1="130" y1="504.1" x2="130" y2="502.5" stroke="#8a8a8a" stroke-width="0.6"/>
<line x1="139.27" y1="504.1" x2="139.27" y2="502.5" stroke="#8a8a8a" stroke-width="0.6"/>
<line x1="148.53" y1="504.1" x2="148.53" y2="502.5" stroke="#8a8a8a" stroke-width="0.6"/>
<line x1="157.8" y1="504.1" x2="157.8" y2="502.5" stroke="#8a8a8a" stroke-width="0.6"/>
<line x1="167.07" y1="504.1" x2="167.07" y2="502.5" stroke="#8a8a8a" stroke-width="0.6"/>
<line x1="176.33" y1="504.1" x2="176.33" y2="502.5" stroke="#8a8a8a" stroke-width="0.6"/>
<text x="52.93" y="512.6" font-size="6.99" text-anchor="end" fill="#1a1a1a" transform="rotate(-51 52.93 512.6)" textLength="28.93" lengthAdjust="spacingAndGlyphs">2015/09/16</text>
<text x="71.47" y="512.6" font-size="6.99" text-anchor="end" fill="#1a1a1a" transform="rotate(-51 71.47 512.6)" textLength="28.69" lengthAdjust="spacingAndGlyphs">2015/11/03</text>
<text x="90" y="512.6" font-size="6.99" text-anchor="end" fill="#1a1a1a" transform="rotate(-51 90 512.6)" textLength="28.93" lengthAdjust="spacingAndGlyphs">2015/12/21</text>
<text x="108.53" y="512.6" font-size="6.99" text-anchor="end" fill="#1a1a1a" transform="rotate(-51 108.53 512.6)" textLength="28.93" lengthAdjust="spacingAndGlyphs">2016/03/02</text>
<text x="127.07" y="512.6" font-size="6.99" text-anchor="end" fill="#1a1a1a" transform="rotate(-51 127.07 512.6)" textLength="28.93" lengthAdjust="spacingAndGlyphs">2016/04/19</text>
<text x="145.6" y="512.6" font-size="6.99" text-anchor="end" fill="#1a1a1a" transform="rotate(-51 145.6 512.6)" textLength="28.93" lengthAdjust="spacingAndGlyphs">2016/07/24</text>
<text x="164.13" y="512.6" font-size="6.99" text-anchor="end" fill="#1a1a1a" transform="rotate(-51 164.13 512.6)" textLength="28.93" lengthAdjust="spacingAndGlyphs">2016/10/04</text>
<text x="182.67" y="512.6" font-size="6.99" text-anchor="end" fill="#1a1a1a" transform="rotate(-51 182.67 512.6)" textLength="28.93" lengthAdjust="spacingAndGlyphs">2016/12/03</text>
<polyline points="51.53,427.4 60.8,428.1 70.07,430.2 79.33,433.1 88.6,434.8 97.87,439.4 107.13,449.5 116.4,452.6 125.67,455.8 134.93,457.3 144.2,458.9 153.47,461.5 162.73,463.1 172,463.1 181.27,464.2" fill="none" stroke="#C0282D" stroke-width="1.3" stroke-linejoin="round"/>
<path d="M51.53 424.86L53.88 429.09L49.18 429.09Z" fill="#C0282D"/>
<path d="M60.8 425.56L63.15 429.79L58.45 429.79Z" fill="#C0282D"/>
<path d="M70.07 427.66L72.42 431.89L67.72 431.89Z" fill="#C0282D"/>
<path d="M79.33 430.56L81.68 434.79L76.98 434.79Z" fill="#C0282D"/>
<path d="M88.6 432.26L90.95 436.49L86.25 436.49Z" fill="#C0282D"/>
<path d="M97.87 436.86L100.22 441.09L95.52 441.09Z" fill="#C0282D"/>
<path d="M107.13 446.96L109.48 451.19L104.78 451.19Z" fill="#C0282D"/>
<path d="M116.4 450.06L118.75 454.29L114.05 454.29Z" fill="#C0282D"/>
<path d="M125.67 453.26L128.02 457.49L123.32 457.49Z" fill="#C0282D"/>
<path d="M134.93 454.76L137.28 458.99L132.58 458.99Z" fill="#C0282D"/>
<path d="M144.2 456.36L146.55 460.59L141.85 460.59Z" fill="#C0282D"/>
<path d="M153.47 458.96L155.82 463.19L151.12 463.19Z" fill="#C0282D"/>
<path d="M162.73 460.56L165.08 464.79L160.38 464.79Z" fill="#C0282D"/>
<path d="M172 460.56L174.35 464.79L169.65 464.79Z" fill="#C0282D"/>
<path d="M181.27 461.66L183.62 465.89L178.92 465.89Z" fill="#C0282D"/>
<polyline points="51.53,424.9 60.8,424.3 70.07,425.8 79.33,426 88.6,428.1 97.87,427.9 107.13,428.1 116.4,430 125.67,430 134.93,433.7 144.2,434.2 153.47,433.3 162.73,437.5 172,437.3 181.27,437.5" fill="none" stroke="#1F6FC0" stroke-width="1.3" stroke-linejoin="round"/>
<rect x="49.58" y="422.95" width="3.9" height="3.9" fill="#1F6FC0"/>
<rect x="58.85" y="422.35" width="3.9" height="3.9" fill="#1F6FC0"/>
<rect x="68.12" y="423.85" width="3.9" height="3.9" fill="#1F6FC0"/>
<rect x="77.38" y="424.05" width="3.9" height="3.9" fill="#1F6FC0"/>
<rect x="86.65" y="426.15" width="3.9" height="3.9" fill="#1F6FC0"/>
<rect x="95.92" y="425.95" width="3.9" height="3.9" fill="#1F6FC0"/>
<rect x="105.18" y="426.15" width="3.9" height="3.9" fill="#1F6FC0"/>
<rect x="114.45" y="428.05" width="3.9" height="3.9" fill="#1F6FC0"/>
<rect x="123.72" y="428.05" width="3.9" height="3.9" fill="#1F6FC0"/>
<rect x="132.98" y="431.75" width="3.9" height="3.9" fill="#1F6FC0"/>
<rect x="142.25" y="432.25" width="3.9" height="3.9" fill="#1F6FC0"/>
<rect x="151.52" y="431.35" width="3.9" height="3.9" fill="#1F6FC0"/>
<rect x="160.78" y="435.55" width="3.9" height="3.9" fill="#1F6FC0"/>
<rect x="170.05" y="435.35" width="3.9" height="3.9" fill="#1F6FC0"/>
<rect x="179.32" y="435.55" width="3.9" height="3.9" fill="#1F6FC0"/>
<polyline points="51.53,434.8 60.8,445.3 70.07,451 79.33,453.3 88.6,463.1 97.87,476.2 107.13,488.3 116.4,491.5 125.67,492.5 134.93,496.7 144.2,497.8 153.47,498.8 162.73,500.3 172,501.4 181.27,502.6" fill="none" stroke="#6FAE45" stroke-width="1.3" stroke-linejoin="round"/>
<circle cx="51.53" cy="434.8" r="2.15" fill="#6FAE45"/>
<circle cx="60.8" cy="445.3" r="2.15" fill="#6FAE45"/>
<circle cx="70.07" cy="451" r="2.15" fill="#6FAE45"/>
<circle cx="79.33" cy="453.3" r="2.15" fill="#6FAE45"/>
<circle cx="88.6" cy="463.1" r="2.15" fill="#6FAE45"/>
<circle cx="97.87" cy="476.2" r="2.15" fill="#6FAE45"/>
<circle cx="107.13" cy="488.3" r="2.15" fill="#6FAE45"/>
<circle cx="116.4" cy="491.5" r="2.15" fill="#6FAE45"/>
<circle cx="125.67" cy="492.5" r="2.15" fill="#6FAE45"/>
<circle cx="134.93" cy="496.7" r="2.15" fill="#6FAE45"/>
<circle cx="144.2" cy="497.8" r="2.15" fill="#6FAE45"/>
<circle cx="153.47" cy="498.8" r="2.15" fill="#6FAE45"/>
<circle cx="162.73" cy="500.3" r="2.15" fill="#6FAE45"/>
<circle cx="172" cy="501.4" r="2.15" fill="#6FAE45"/>
<circle cx="181.27" cy="502.6" r="2.15" fill="#6FAE45"/>
<line x1="57.7" y1="475.1" x2="69.6" y2="475.1" stroke="#C0282D" stroke-width="1.3"/>
<path d="M63.65 473.1L65.5 476.43L61.8 476.43Z" fill="#C0282D"/>
<text x="70.4" y="476.9" font-size="6" text-anchor="start" fill="#1a1a1a" textLength="20.89" lengthAdjust="spacingAndGlyphs">D-InSAR</text>
<line x1="57.7" y1="485.6" x2="69.6" y2="485.6" stroke="#1F6FC0" stroke-width="1.3"/>
<rect x="62.15" y="484.1" width="3" height="3" fill="#1F6FC0"/>
<text x="70.4" y="487.4" font-size="6" text-anchor="start" fill="#1a1a1a" textLength="30.59" lengthAdjust="spacingAndGlyphs">SBAS-InSAR</text>
<line x1="57.7" y1="495.1" x2="69.6" y2="495.1" stroke="#6FAE45" stroke-width="1.3"/>
<circle cx="63.65" cy="495.1" r="1.75" fill="#6FAE45"/>
<text x="70.4" y="496.9" font-size="6" text-anchor="start" fill="#1a1a1a" textLength="19.37" lengthAdjust="spacingAndGlyphs">Leveling</text>
<text x="26.3" y="464.4" font-size="7.21" text-anchor="middle" fill="#1a1a1a" transform="rotate(-90 26.3 464.4)" textLength="72.95" lengthAdjust="spacingAndGlyphs">Cumulative subsidence/mm</text>
<text x="107.8" y="544.1" font-size="7.26" text-anchor="start" fill="#1a1a1a" textLength="17.59" lengthAdjust="spacingAndGlyphs">Date/d</text>
<text x="8.3" y="533.6" font-size="7.48" text-anchor="start" fill="#1a1a1a" textLength="7.93" lengthAdjust="spacingAndGlyphs">(d)</text>
<line x1="223.8" y1="10.1" x2="223.8" y2="56.7" stroke="#999" stroke-width="0.65"/>
<line x1="223.8" y1="56.7" x2="371.5" y2="56.7" stroke="#999" stroke-width="0.65"/>
<line x1="223.8" y1="10.1" x2="225.1" y2="10.1" stroke="#999" stroke-width="0.5"/>
<text x="223" y="10.1" font-size="6.93" text-anchor="end" fill="#1a1a1a" textLength="9.45" lengthAdjust="spacingAndGlyphs">100</text>
<line x1="223.8" y1="19.42" x2="225.1" y2="19.42" stroke="#999" stroke-width="0.5"/>
<text x="222.4" y="19.42" font-size="6.93" text-anchor="end" fill="#1a1a1a" textLength="3.15" lengthAdjust="spacingAndGlyphs">0</text>
<line x1="223.8" y1="28.74" x2="225.1" y2="28.74" stroke="#999" stroke-width="0.5"/>
<text x="223.6" y="28.74" font-size="6.93" text-anchor="end" fill="#1a1a1a" textLength="13" lengthAdjust="spacingAndGlyphs">−100</text>
<line x1="223.8" y1="38.06" x2="225.1" y2="38.06" stroke="#999" stroke-width="0.5"/>
<text x="223.6" y="38.06" font-size="6.93" text-anchor="end" fill="#1a1a1a" textLength="13" lengthAdjust="spacingAndGlyphs">−200</text>
<line x1="223.8" y1="47.38" x2="225.1" y2="47.38" stroke="#999" stroke-width="0.5"/>
<text x="223.6" y="47.38" font-size="6.93" text-anchor="end" fill="#1a1a1a" textLength="13" lengthAdjust="spacingAndGlyphs">−300</text>
<text x="223.6" y="56.7" font-size="6.93" text-anchor="end" fill="#1a1a1a" textLength="13" lengthAdjust="spacingAndGlyphs">−400</text>
<line x1="223.8" y1="56.7" x2="223.8" y2="55.4" stroke="#8a8a8a" stroke-width="0.5"/>
<text x="225.3" y="62.5" font-size="6.93" text-anchor="middle" fill="#1a1a1a" textLength="13" lengthAdjust="spacingAndGlyphs">−550</text>
<line x1="238.57" y1="56.7" x2="238.57" y2="55.4" stroke="#8a8a8a" stroke-width="0.5"/>
<text x="240.07" y="62.5" font-size="6.93" text-anchor="middle" fill="#1a1a1a" textLength="13" lengthAdjust="spacingAndGlyphs">−500</text>
<line x1="253.34" y1="56.7" x2="253.34" y2="55.4" stroke="#8a8a8a" stroke-width="0.5"/>
<text x="254.84" y="62.5" font-size="6.93" text-anchor="middle" fill="#1a1a1a" textLength="13" lengthAdjust="spacingAndGlyphs">−450</text>
<line x1="268.11" y1="56.7" x2="268.11" y2="55.4" stroke="#8a8a8a" stroke-width="0.5"/>
<text x="269.61" y="62.5" font-size="6.93" text-anchor="middle" fill="#1a1a1a" textLength="13" lengthAdjust="spacingAndGlyphs">−400</text>
<line x1="282.88" y1="56.7" x2="282.88" y2="55.4" stroke="#8a8a8a" stroke-width="0.5"/>
<text x="284.38" y="62.5" font-size="6.93" text-anchor="middle" fill="#1a1a1a" textLength="13" lengthAdjust="spacingAndGlyphs">−350</text>
<line x1="297.65" y1="56.7" x2="297.65" y2="55.4" stroke="#8a8a8a" stroke-width="0.5"/>
<text x="299.15" y="62.5" font-size="6.93" text-anchor="middle" fill="#1a1a1a" textLength="13" lengthAdjust="spacingAndGlyphs">−300</text>
<line x1="312.42" y1="56.7" x2="312.42" y2="55.4" stroke="#8a8a8a" stroke-width="0.5"/>
<text x="313.92" y="62.5" font-size="6.93" text-anchor="middle" fill="#1a1a1a" textLength="13" lengthAdjust="spacingAndGlyphs">−250</text>
<line x1="327.19" y1="56.7" x2="327.19" y2="55.4" stroke="#8a8a8a" stroke-width="0.5"/>
<text x="328.69" y="62.5" font-size="6.93" text-anchor="middle" fill="#1a1a1a" textLength="13" lengthAdjust="spacingAndGlyphs">−200</text>
<line x1="341.96" y1="56.7" x2="341.96" y2="55.4" stroke="#8a8a8a" stroke-width="0.5"/>
<text x="343.46" y="62.5" font-size="6.93" text-anchor="middle" fill="#1a1a1a" textLength="13" lengthAdjust="spacingAndGlyphs">−150</text>
<line x1="356.73" y1="56.7" x2="356.73" y2="55.4" stroke="#8a8a8a" stroke-width="0.5"/>
<text x="358.23" y="62.5" font-size="6.93" text-anchor="middle" fill="#1a1a1a" textLength="13" lengthAdjust="spacingAndGlyphs">−100</text>
<line x1="371.5" y1="56.7" x2="371.5" y2="55.4" stroke="#8a8a8a" stroke-width="0.5"/>
<text x="373" y="62.5" font-size="6.93" text-anchor="middle" fill="#1a1a1a" textLength="9.85" lengthAdjust="spacingAndGlyphs">−50</text>
<line x1="223.8" y1="56.6" x2="371.1" y2="17.9" stroke="#262626" stroke-width="0.8"/>
<path d="M223.8 52.27L226.05 56.32L221.55 56.32Z" fill="#C0282D"/>
<path d="M235.1 51.67L237.35 55.72L232.85 55.72Z" fill="#C0282D"/>
<path d="M245.2 51.07L247.45 55.12L242.95 55.12Z" fill="#C0282D"/>
<path d="M250.4 47.47L252.65 51.52L248.15 51.52Z" fill="#C0282D"/>
<path d="M254.6 46.37L256.85 50.42L252.35 50.42Z" fill="#C0282D"/>
<path d="M259.3 44.27L261.55 48.32L257.05 48.32Z" fill="#C0282D"/>
<path d="M277.1 40.37L279.35 44.42L274.85 44.42Z" fill="#C0282D"/>
<path d="M283.4 37.37L285.65 41.42L281.15 41.42Z" fill="#C0282D"/>
<path d="M290.5 34.47L292.75 38.52L288.25 38.52Z" fill="#C0282D"/>
<path d="M308.1 28.97L310.35 33.02L305.85 33.02Z" fill="#C0282D"/>
<path d="M322.5 25.87L324.75 29.92L320.25 29.92Z" fill="#C0282D"/>
<path d="M335.2 23.17L337.45 27.22L332.95 27.22Z" fill="#C0282D"/>
<path d="M344 21.97L346.25 26.02L341.75 26.02Z" fill="#C0282D"/>
<path d="M355.3 19.57L357.55 23.62L353.05 23.62Z" fill="#C0282D"/>
<path d="M371.1 19.07L373.35 23.12L368.85 23.12Z" fill="#C0282D"/>
<text x="232.2" y="14.9" font-size="6.44" text-anchor="start" fill="#1a1a1a" textLength="38.59" lengthAdjust="spacingAndGlyphs">Pearson's r: 0.99</text>
<text x="202.3" y="57.6" font-size="6.6" text-anchor="start" fill="#1a1a1a" transform="rotate(-90 202.3 57.6)" textLength="51.16" lengthAdjust="spacingAndGlyphs">D-InSAR cumulative</text>
<text x="209.8" y="57.3" font-size="6.6" text-anchor="start" fill="#1a1a1a" transform="rotate(-90 209.8 57.3)" textLength="37.33" lengthAdjust="spacingAndGlyphs">subsidence/mm</text>
<text x="301.6" y="68.3" font-size="6.38" text-anchor="middle" fill="#1a1a1a" textLength="85.36" lengthAdjust="spacingAndGlyphs">Leveling cumulative subsidence/mm</text>
<line x1="223.8" y1="76.8" x2="223.8" y2="123.4" stroke="#999" stroke-width="0.65"/>
<line x1="223.8" y1="123.4" x2="371.5" y2="123.4" stroke="#999" stroke-width="0.65"/>
<line x1="223.8" y1="76.8" x2="225.1" y2="76.8" stroke="#999" stroke-width="0.5"/>
<text x="223" y="76.8" font-size="6.93" text-anchor="end" fill="#1a1a1a" textLength="6.3" lengthAdjust="spacingAndGlyphs">50</text>
<line x1="223.8" y1="88.45" x2="225.1" y2="88.45" stroke="#999" stroke-width="0.5"/>
<text x="222.4" y="88.45" font-size="6.93" text-anchor="end" fill="#1a1a1a" textLength="3.15" lengthAdjust="spacingAndGlyphs">0</text>
<line x1="223.8" y1="100.1" x2="225.1" y2="100.1" stroke="#999" stroke-width="0.5"/>
<text x="223.6" y="100.1" font-size="6.93" text-anchor="end" fill="#1a1a1a" textLength="9.85" lengthAdjust="spacingAndGlyphs">−50</text>
<line x1="223.8" y1="111.75" x2="225.1" y2="111.75" stroke="#999" stroke-width="0.5"/>
<text x="223.6" y="111.75" font-size="6.93" text-anchor="end" fill="#1a1a1a" textLength="13" lengthAdjust="spacingAndGlyphs">−100</text>
<text x="223.6" y="123.4" font-size="6.93" text-anchor="end" fill="#1a1a1a" textLength="13" lengthAdjust="spacingAndGlyphs">−150</text>
<line x1="223.8" y1="123.4" x2="223.8" y2="122.1" stroke="#8a8a8a" stroke-width="0.5"/>
<text x="225.3" y="129.2" font-size="6.93" text-anchor="middle" fill="#1a1a1a" textLength="13" lengthAdjust="spacingAndGlyphs">−550</text>
<line x1="238.57" y1="123.4" x2="238.57" y2="122.1" stroke="#8a8a8a" stroke-width="0.5"/>
<text x="240.07" y="129.2" font-size="6.93" text-anchor="middle" fill="#1a1a1a" textLength="13" lengthAdjust="spacingAndGlyphs">−500</text>
<line x1="253.34" y1="123.4" x2="253.34" y2="122.1" stroke="#8a8a8a" stroke-width="0.5"/>
<text x="254.84" y="129.2" font-size="6.93" text-anchor="middle" fill="#1a1a1a" textLength="13" lengthAdjust="spacingAndGlyphs">−450</text>
<line x1="268.11" y1="123.4" x2="268.11" y2="122.1" stroke="#8a8a8a" stroke-width="0.5"/>
<text x="269.61" y="129.2" font-size="6.93" text-anchor="middle" fill="#1a1a1a" textLength="13" lengthAdjust="spacingAndGlyphs">−400</text>
<line x1="282.88" y1="123.4" x2="282.88" y2="122.1" stroke="#8a8a8a" stroke-width="0.5"/>
<text x="284.38" y="129.2" font-size="6.93" text-anchor="middle" fill="#1a1a1a" textLength="13" lengthAdjust="spacingAndGlyphs">−350</text>
<line x1="297.65" y1="123.4" x2="297.65" y2="122.1" stroke="#8a8a8a" stroke-width="0.5"/>
<text x="299.15" y="129.2" font-size="6.93" text-anchor="middle" fill="#1a1a1a" textLength="13" lengthAdjust="spacingAndGlyphs">−300</text>
<line x1="312.42" y1="123.4" x2="312.42" y2="122.1" stroke="#8a8a8a" stroke-width="0.5"/>
<text x="313.92" y="129.2" font-size="6.93" text-anchor="middle" fill="#1a1a1a" textLength="13" lengthAdjust="spacingAndGlyphs">−250</text>
<line x1="327.19" y1="123.4" x2="327.19" y2="122.1" stroke="#8a8a8a" stroke-width="0.5"/>
<text x="328.69" y="129.2" font-size="6.93" text-anchor="middle" fill="#1a1a1a" textLength="13" lengthAdjust="spacingAndGlyphs">−200</text>
<line x1="341.96" y1="123.4" x2="341.96" y2="122.1" stroke="#8a8a8a" stroke-width="0.5"/>
<text x="343.46" y="129.2" font-size="6.93" text-anchor="middle" fill="#1a1a1a" textLength="13" lengthAdjust="spacingAndGlyphs">−150</text>
<line x1="356.73" y1="123.4" x2="356.73" y2="122.1" stroke="#8a8a8a" stroke-width="0.5"/>
<text x="358.23" y="129.2" font-size="6.93" text-anchor="middle" fill="#1a1a1a" textLength="13" lengthAdjust="spacingAndGlyphs">−100</text>
<line x1="371.5" y1="123.4" x2="371.5" y2="122.1" stroke="#8a8a8a" stroke-width="0.5"/>
<text x="373" y="129.2" font-size="6.93" text-anchor="middle" fill="#1a1a1a" textLength="9.85" lengthAdjust="spacingAndGlyphs">−50</text>
<line x1="223.8" y1="116.4" x2="370.8" y2="85.8" stroke="#262626" stroke-width="0.8"/>
<rect x="222.2" y="114.3" width="3.2" height="3.2" fill="#1F6FC0"/>
<rect x="233.7" y="112.7" width="3.2" height="3.2" fill="#1F6FC0"/>
<rect x="243.8" y="105.9" width="3.2" height="3.2" fill="#1F6FC0"/>
<rect x="249.1" y="106.8" width="3.2" height="3.2" fill="#1F6FC0"/>
<rect x="253.3" y="112" width="3.2" height="3.2" fill="#1F6FC0"/>
<rect x="257.7" y="107.6" width="3.2" height="3.2" fill="#1F6FC0"/>
<rect x="275.5" y="110.4" width="3.2" height="3.2" fill="#1F6FC0"/>
<rect x="281.6" y="104.1" width="3.2" height="3.2" fill="#1F6FC0"/>
<rect x="288.7" y="97.8" width="3.2" height="3.2" fill="#1F6FC0"/>
<rect x="306.5" y="97.6" width="3.2" height="3.2" fill="#1F6FC0"/>
<rect x="320.9" y="86.3" width="3.2" height="3.2" fill="#1F6FC0"/>
<rect x="333.6" y="89.4" width="3.2" height="3.2" fill="#1F6FC0"/>
<rect x="342.2" y="92.4" width="3.2" height="3.2" fill="#1F6FC0"/>
<rect x="353.9" y="86.9" width="3.2" height="3.2" fill="#1F6FC0"/>
<rect x="369.2" y="87.8" width="3.2" height="3.2" fill="#1F6FC0"/>
<text x="232.2" y="81" font-size="6.44" text-anchor="start" fill="#1a1a1a" textLength="38.59" lengthAdjust="spacingAndGlyphs">Pearson's r: 0.95</text>
<text x="201.8" y="128.8" font-size="6.6" text-anchor="start" fill="#1a1a1a" transform="rotate(-90 201.8 128.8)" textLength="61.83" lengthAdjust="spacingAndGlyphs">SBAS-InSAR cumulative</text>
<text x="208.8" y="122.8" font-size="6.6" text-anchor="start" fill="#1a1a1a" transform="rotate(-90 208.8 122.8)" textLength="37.33" lengthAdjust="spacingAndGlyphs">subsidence/mm</text>
<text x="301.6" y="135.3" font-size="6.38" text-anchor="middle" fill="#1a1a1a" textLength="85.36" lengthAdjust="spacingAndGlyphs">Leveling cumulative subsidence/mm</text>
<line x1="223.8" y1="145" x2="223.8" y2="191.2" stroke="#999" stroke-width="0.65"/>
<line x1="223.8" y1="191.2" x2="370.5" y2="191.2" stroke="#999" stroke-width="0.65"/>
<line x1="223.8" y1="145" x2="225.1" y2="145" stroke="#999" stroke-width="0.5"/>
<text x="220.8" y="145" font-size="6.93" text-anchor="end" fill="#1a1a1a" textLength="3.15" lengthAdjust="spacingAndGlyphs">0</text>
<line x1="223.8" y1="160.47" x2="225.1" y2="160.47" stroke="#999" stroke-width="0.5"/>
<text x="223.2" y="160.47" font-size="6.93" text-anchor="end" fill="#1a1a1a" textLength="13" lengthAdjust="spacingAndGlyphs">−200</text>
<line x1="223.8" y1="175.93" x2="225.1" y2="175.93" stroke="#999" stroke-width="0.5"/>
<text x="223.2" y="175.93" font-size="6.93" text-anchor="end" fill="#1a1a1a" textLength="13" lengthAdjust="spacingAndGlyphs">−400</text>
<text x="223.2" y="191.4" font-size="6.93" text-anchor="end" fill="#1a1a1a" textLength="13" lengthAdjust="spacingAndGlyphs">−600</text>
<line x1="223.8" y1="191.2" x2="223.8" y2="189.9" stroke="#8a8a8a" stroke-width="0.5"/>
<text x="225.3" y="197" font-size="6.93" text-anchor="middle" fill="#1a1a1a" textLength="16.15" lengthAdjust="spacingAndGlyphs">−1200</text>
<line x1="248.25" y1="191.2" x2="248.25" y2="189.9" stroke="#8a8a8a" stroke-width="0.5"/>
<text x="249.75" y="197" font-size="6.93" text-anchor="middle" fill="#1a1a1a" textLength="16.15" lengthAdjust="spacingAndGlyphs">−1000</text>
<line x1="272.7" y1="191.2" x2="272.7" y2="189.9" stroke="#8a8a8a" stroke-width="0.5"/>
<text x="274.2" y="197" font-size="6.93" text-anchor="middle" fill="#1a1a1a" textLength="13" lengthAdjust="spacingAndGlyphs">−800</text>
<line x1="297.15" y1="191.2" x2="297.15" y2="189.9" stroke="#8a8a8a" stroke-width="0.5"/>
<text x="298.65" y="197" font-size="6.93" text-anchor="middle" fill="#1a1a1a" textLength="13" lengthAdjust="spacingAndGlyphs">−600</text>
<line x1="321.6" y1="191.2" x2="321.6" y2="189.9" stroke="#8a8a8a" stroke-width="0.5"/>
<text x="323.1" y="197" font-size="6.93" text-anchor="middle" fill="#1a1a1a" textLength="13" lengthAdjust="spacingAndGlyphs">−400</text>
<line x1="346.05" y1="191.2" x2="346.05" y2="189.9" stroke="#8a8a8a" stroke-width="0.5"/>
<text x="347.55" y="197" font-size="6.93" text-anchor="middle" fill="#1a1a1a" textLength="13" lengthAdjust="spacingAndGlyphs">−200</text>
<line x1="370.5" y1="191.2" x2="370.5" y2="189.9" stroke="#8a8a8a" stroke-width="0.5"/>
<text x="372" y="197" font-size="6.93" text-anchor="middle" fill="#1a1a1a" textLength="3.15" lengthAdjust="spacingAndGlyphs">0</text>
<line x1="230.1" y1="185.7" x2="361.1" y2="145.6" stroke="#262626" stroke-width="0.8"/>
<path d="M230.1 182.37L232.35 186.42L227.85 186.42Z" fill="#C0282D"/>
<path d="M231.4 181.87L233.65 185.92L229.15 185.92Z" fill="#C0282D"/>
<path d="M232.9 181.47L235.15 185.52L230.65 185.52Z" fill="#C0282D"/>
<path d="M235.1 180.57L237.35 184.62L232.85 184.62Z" fill="#C0282D"/>
<path d="M237.5 179.67L239.75 183.72L235.25 183.72Z" fill="#C0282D"/>
<path d="M240.2 176.87L242.45 180.92L237.95 180.92Z" fill="#C0282D"/>
<path d="M244.3 176.47L246.55 180.52L242.05 180.52Z" fill="#C0282D"/>
<path d="M268.2 173.77L270.45 177.82L265.95 177.82Z" fill="#C0282D"/>
<path d="M276.1 170.07L278.35 174.12L273.85 174.12Z" fill="#C0282D"/>
<path d="M285.4 167.17L287.65 171.22L283.15 171.22Z" fill="#C0282D"/>
<path d="M309.7 158.77L311.95 162.82L307.45 162.82Z" fill="#C0282D"/>
<path d="M322 153.17L324.25 157.22L319.75 157.22Z" fill="#C0282D"/>
<path d="M333.4 150.17L335.65 154.22L331.15 154.22Z" fill="#C0282D"/>
<path d="M342.9 148.17L345.15 152.22L340.65 152.22Z" fill="#C0282D"/>
<path d="M351.8 144.87L354.05 148.92L349.55 148.92Z" fill="#C0282D"/>
<path d="M361.1 144.67L363.35 148.72L358.85 148.72Z" fill="#C0282D"/>
<text x="230.8" y="149.2" font-size="6.44" text-anchor="start" fill="#1a1a1a" textLength="38.59" lengthAdjust="spacingAndGlyphs">Pearson's r: 0.99</text>
<text x="201.4" y="191.7" font-size="6.6" text-anchor="start" fill="#1a1a1a" transform="rotate(-90 201.4 191.7)" textLength="51.16" lengthAdjust="spacingAndGlyphs">D-InSAR cumulative</text>
<text x="207.8" y="188.7" font-size="6.6" text-anchor="start" fill="#1a1a1a" transform="rotate(-90 207.8 188.7)" textLength="37.33" lengthAdjust="spacingAndGlyphs">subsidence/mm</text>
<text x="301.6" y="203" font-size="6.38" text-anchor="middle" fill="#1a1a1a" textLength="85.36" lengthAdjust="spacingAndGlyphs">Leveling cumulative subsidence/mm</text>
<line x1="223.8" y1="211.4" x2="223.8" y2="258.3" stroke="#999" stroke-width="0.65"/>
<line x1="223.8" y1="258.3" x2="370.5" y2="258.3" stroke="#999" stroke-width="0.65"/>
<line x1="223.8" y1="211.4" x2="225.1" y2="211.4" stroke="#999" stroke-width="0.5"/>
<text x="222" y="211.4" font-size="6.93" text-anchor="end" fill="#1a1a1a" textLength="6.3" lengthAdjust="spacingAndGlyphs">50</text>
<line x1="223.8" y1="223.12" x2="225.1" y2="223.12" stroke="#999" stroke-width="0.5"/>
<text x="221.5" y="223.12" font-size="6.93" text-anchor="end" fill="#1a1a1a" textLength="3.15" lengthAdjust="spacingAndGlyphs">0</text>
<line x1="223.8" y1="234.85" x2="225.1" y2="234.85" stroke="#999" stroke-width="0.5"/>
<text x="222" y="234.85" font-size="6.93" text-anchor="end" fill="#1a1a1a" textLength="9.85" lengthAdjust="spacingAndGlyphs">−50</text>
<line x1="223.8" y1="246.57" x2="225.1" y2="246.57" stroke="#999" stroke-width="0.5"/>
<text x="222" y="246.57" font-size="6.93" text-anchor="end" fill="#1a1a1a" textLength="13" lengthAdjust="spacingAndGlyphs">−100</text>
<text x="222" y="258.3" font-size="6.93" text-anchor="end" fill="#1a1a1a" textLength="13" lengthAdjust="spacingAndGlyphs">−150</text>
<line x1="223.8" y1="258.3" x2="223.8" y2="257" stroke="#8a8a8a" stroke-width="0.5"/>
<text x="225.3" y="264.1" font-size="6.93" text-anchor="middle" fill="#1a1a1a" textLength="16.15" lengthAdjust="spacingAndGlyphs">−1200</text>
<line x1="248.25" y1="258.3" x2="248.25" y2="257" stroke="#8a8a8a" stroke-width="0.5"/>
<text x="249.75" y="264.1" font-size="6.93" text-anchor="middle" fill="#1a1a1a" textLength="16.15" lengthAdjust="spacingAndGlyphs">−1000</text>
<line x1="272.7" y1="258.3" x2="272.7" y2="257" stroke="#8a8a8a" stroke-width="0.5"/>
<text x="274.2" y="264.1" font-size="6.93" text-anchor="middle" fill="#1a1a1a" textLength="13" lengthAdjust="spacingAndGlyphs">−800</text>
<line x1="297.15" y1="258.3" x2="297.15" y2="257" stroke="#8a8a8a" stroke-width="0.5"/>
<text x="298.65" y="264.1" font-size="6.93" text-anchor="middle" fill="#1a1a1a" textLength="13" lengthAdjust="spacingAndGlyphs">−600</text>
<line x1="321.6" y1="258.3" x2="321.6" y2="257" stroke="#8a8a8a" stroke-width="0.5"/>
<text x="323.1" y="264.1" font-size="6.93" text-anchor="middle" fill="#1a1a1a" textLength="13" lengthAdjust="spacingAndGlyphs">−400</text>
<line x1="346.05" y1="258.3" x2="346.05" y2="257" stroke="#8a8a8a" stroke-width="0.5"/>
<text x="347.55" y="264.1" font-size="6.93" text-anchor="middle" fill="#1a1a1a" textLength="13" lengthAdjust="spacingAndGlyphs">−200</text>
<line x1="370.5" y1="258.3" x2="370.5" y2="257" stroke="#8a8a8a" stroke-width="0.5"/>
<text x="372" y="264.1" font-size="6.93" text-anchor="middle" fill="#1a1a1a" textLength="3.15" lengthAdjust="spacingAndGlyphs">0</text>
<line x1="230.3" y1="244.5" x2="361" y2="216.5" stroke="#262626" stroke-width="0.8"/>
<rect x="228.7" y="246.6" width="3.2" height="3.2" fill="#1F6FC0"/>
<rect x="230.7" y="252.3" width="3.2" height="3.2" fill="#1F6FC0"/>
<rect x="233.3" y="246.6" width="3.2" height="3.2" fill="#1F6FC0"/>
<rect x="236" y="237.9" width="3.2" height="3.2" fill="#1F6FC0"/>
<rect x="238.6" y="244.7" width="3.2" height="3.2" fill="#1F6FC0"/>
<rect x="242.7" y="240.1" width="3.2" height="3.2" fill="#1F6FC0"/>
<rect x="266.1" y="218.5" width="3.2" height="3.2" fill="#1F6FC0"/>
<rect x="274.4" y="230.4" width="3.2" height="3.2" fill="#1F6FC0"/>
<rect x="284.1" y="220.9" width="3.2" height="3.2" fill="#1F6FC0"/>
<rect x="308" y="224.5" width="3.2" height="3.2" fill="#1F6FC0"/>
<rect x="320.3" y="229.5" width="3.2" height="3.2" fill="#1F6FC0"/>
<rect x="332.1" y="225.4" width="3.2" height="3.2" fill="#1F6FC0"/>
<rect x="341" y="221.3" width="3.2" height="3.2" fill="#1F6FC0"/>
<rect x="350.5" y="217.5" width="3.2" height="3.2" fill="#1F6FC0"/>
<rect x="359.4" y="216.2" width="3.2" height="3.2" fill="#1F6FC0"/>
<text x="230.8" y="215.2" font-size="6.44" text-anchor="start" fill="#1a1a1a" textLength="38.59" lengthAdjust="spacingAndGlyphs">Pearson's r: 0.84</text>
<text x="201" y="263.7" font-size="6.6" text-anchor="start" fill="#1a1a1a" transform="rotate(-90 201 263.7)" textLength="61.83" lengthAdjust="spacingAndGlyphs">SBAS-InSAR cumulative</text>
<text x="207.7" y="257.6" font-size="6.6" text-anchor="start" fill="#1a1a1a" transform="rotate(-90 207.7 257.6)" textLength="37.33" lengthAdjust="spacingAndGlyphs">subsidence/mm</text>
<text x="301.6" y="272.4" font-size="6.38" text-anchor="middle" fill="#1a1a1a" textLength="85.36" lengthAdjust="spacingAndGlyphs">Leveling cumulative subsidence/mm</text>
<line x1="223.8" y1="287" x2="223.8" y2="333.3" stroke="#999" stroke-width="0.65"/>
<line x1="223.8" y1="333.3" x2="371.2" y2="333.3" stroke="#999" stroke-width="0.65"/>
<line x1="223.8" y1="287" x2="225.1" y2="287" stroke="#999" stroke-width="0.5"/>
<text x="223" y="287" font-size="6.93" text-anchor="end" fill="#1a1a1a" textLength="9.45" lengthAdjust="spacingAndGlyphs">100</text>
<line x1="223.8" y1="294.68" x2="225.1" y2="294.68" stroke="#999" stroke-width="0.5"/>
<text x="222.4" y="294.68" font-size="6.93" text-anchor="end" fill="#1a1a1a" textLength="3.15" lengthAdjust="spacingAndGlyphs">0</text>
<line x1="223.8" y1="302.37" x2="225.1" y2="302.37" stroke="#999" stroke-width="0.5"/>
<text x="223.6" y="302.37" font-size="6.93" text-anchor="end" fill="#1a1a1a" textLength="13" lengthAdjust="spacingAndGlyphs">−100</text>
<line x1="223.8" y1="310.05" x2="225.1" y2="310.05" stroke="#999" stroke-width="0.5"/>
<text x="223.6" y="310.05" font-size="6.93" text-anchor="end" fill="#1a1a1a" textLength="13" lengthAdjust="spacingAndGlyphs">−200</text>
<line x1="223.8" y1="317.73" x2="225.1" y2="317.73" stroke="#999" stroke-width="0.5"/>
<text x="223.6" y="317.73" font-size="6.93" text-anchor="end" fill="#1a1a1a" textLength="13" lengthAdjust="spacingAndGlyphs">−300</text>
<line x1="223.8" y1="325.42" x2="225.1" y2="325.42" stroke="#999" stroke-width="0.5"/>
<text x="223.6" y="325.42" font-size="6.93" text-anchor="end" fill="#1a1a1a" textLength="13" lengthAdjust="spacingAndGlyphs">−400</text>
<text x="223.6" y="333.1" font-size="6.93" text-anchor="end" fill="#1a1a1a" textLength="13" lengthAdjust="spacingAndGlyphs">−500</text>
<line x1="223.8" y1="333.3" x2="223.8" y2="332" stroke="#8a8a8a" stroke-width="0.5"/>
<text x="225.3" y="339.1" font-size="6.93" text-anchor="middle" fill="#1a1a1a" textLength="13" lengthAdjust="spacingAndGlyphs">−600</text>
<line x1="248.37" y1="333.3" x2="248.37" y2="332" stroke="#8a8a8a" stroke-width="0.5"/>
<text x="249.87" y="339.1" font-size="6.93" text-anchor="middle" fill="#1a1a1a" textLength="13" lengthAdjust="spacingAndGlyphs">−500</text>
<line x1="272.93" y1="333.3" x2="272.93" y2="332" stroke="#8a8a8a" stroke-width="0.5"/>
<text x="274.43" y="339.1" font-size="6.93" text-anchor="middle" fill="#1a1a1a" textLength="13" lengthAdjust="spacingAndGlyphs">−400</text>
<line x1="297.5" y1="333.3" x2="297.5" y2="332" stroke="#8a8a8a" stroke-width="0.5"/>
<text x="299" y="339.1" font-size="6.93" text-anchor="middle" fill="#1a1a1a" textLength="13" lengthAdjust="spacingAndGlyphs">−300</text>
<line x1="322.07" y1="333.3" x2="322.07" y2="332" stroke="#8a8a8a" stroke-width="0.5"/>
<text x="323.57" y="339.1" font-size="6.93" text-anchor="middle" fill="#1a1a1a" textLength="13" lengthAdjust="spacingAndGlyphs">−200</text>
<line x1="346.63" y1="333.3" x2="346.63" y2="332" stroke="#8a8a8a" stroke-width="0.5"/>
<text x="348.13" y="339.1" font-size="6.93" text-anchor="middle" fill="#1a1a1a" textLength="13" lengthAdjust="spacingAndGlyphs">−100</text>
<line x1="371.2" y1="333.3" x2="371.2" y2="332" stroke="#8a8a8a" stroke-width="0.5"/>
<text x="372.7" y="339.1" font-size="6.93" text-anchor="middle" fill="#1a1a1a" textLength="3.15" lengthAdjust="spacingAndGlyphs">0</text>
<line x1="224.4" y1="328.1" x2="356.6" y2="292.7" stroke="#262626" stroke-width="0.8"/>
<path d="M225.4 323.37L227.65 327.42L223.15 327.42Z" fill="#C0282D"/>
<path d="M233.9 322.47L236.15 326.52L231.65 326.52Z" fill="#C0282D"/>
<path d="M241.4 321.67L243.65 325.72L239.15 325.72Z" fill="#C0282D"/>
<path d="M245.3 319.57L247.55 323.62L243.05 323.62Z" fill="#C0282D"/>
<path d="M249.3 319.07L251.55 323.12L247.05 323.12Z" fill="#C0282D"/>
<path d="M253 315.97L255.25 320.02L250.75 320.02Z" fill="#C0282D"/>
<path d="M268.9 313.67L271.15 317.72L266.65 317.72Z" fill="#C0282D"/>
<path d="M274.1 310.97L276.35 315.02L271.85 315.02Z" fill="#C0282D"/>
<path d="M281 308.17L283.25 312.22L278.75 312.22Z" fill="#C0282D"/>
<path d="M297.1 302.67L299.35 306.72L294.85 306.72Z" fill="#C0282D"/>
<path d="M310.2 300.27L312.45 304.32L307.95 304.32Z" fill="#C0282D"/>
<path d="M322.2 297.17L324.45 301.22L319.95 301.22Z" fill="#C0282D"/>
<path d="M331.5 296.17L333.75 300.22L329.25 300.22Z" fill="#C0282D"/>
<path d="M342.2 294.07L344.45 298.12L339.95 298.12Z" fill="#C0282D"/>
<path d="M356.6 293.77L358.85 297.82L354.35 297.82Z" fill="#C0282D"/>
<text x="233.4" y="291.4" font-size="6.44" text-anchor="start" fill="#1a1a1a" textLength="38.59" lengthAdjust="spacingAndGlyphs">Pearson's r: 0.99</text>
<text x="202.3" y="333.6" font-size="6.6" text-anchor="start" fill="#1a1a1a" transform="rotate(-90 202.3 333.6)" textLength="51.16" lengthAdjust="spacingAndGlyphs">D-InSAR cumulative</text>
<text x="208.8" y="330.6" font-size="6.6" text-anchor="start" fill="#1a1a1a" transform="rotate(-90 208.8 330.6)" textLength="37.33" lengthAdjust="spacingAndGlyphs">subsidence/mm</text>
<text x="301.6" y="344.8" font-size="6.38" text-anchor="middle" fill="#1a1a1a" textLength="85.36" lengthAdjust="spacingAndGlyphs">Leveling cumulative subsidence/mm</text>
<line x1="223.8" y1="352.8" x2="223.8" y2="400.3" stroke="#999" stroke-width="0.65"/>
<line x1="223.8" y1="400.3" x2="371.2" y2="400.3" stroke="#999" stroke-width="0.65"/>
<line x1="223.8" y1="352.8" x2="225.1" y2="352.8" stroke="#999" stroke-width="0.5"/>
<text x="223" y="352.8" font-size="6.93" text-anchor="end" fill="#1a1a1a" textLength="6.3" lengthAdjust="spacingAndGlyphs">50</text>
<line x1="223.8" y1="364.65" x2="225.1" y2="364.65" stroke="#999" stroke-width="0.5"/>
<text x="222.4" y="364.65" font-size="6.93" text-anchor="end" fill="#1a1a1a" textLength="3.15" lengthAdjust="spacingAndGlyphs">0</text>
<line x1="223.8" y1="376.5" x2="225.1" y2="376.5" stroke="#999" stroke-width="0.5"/>
<text x="223.6" y="376.5" font-size="6.93" text-anchor="end" fill="#1a1a1a" textLength="9.85" lengthAdjust="spacingAndGlyphs">−50</text>
<line x1="223.8" y1="388.35" x2="225.1" y2="388.35" stroke="#999" stroke-width="0.5"/>
<text x="223.6" y="388.35" font-size="6.93" text-anchor="end" fill="#1a1a1a" textLength="13" lengthAdjust="spacingAndGlyphs">−100</text>
<text x="223.6" y="400.2" font-size="6.93" text-anchor="end" fill="#1a1a1a" textLength="13" lengthAdjust="spacingAndGlyphs">−150</text>
<line x1="223.8" y1="400.3" x2="223.8" y2="399" stroke="#8a8a8a" stroke-width="0.5"/>
<text x="225.3" y="406.1" font-size="6.93" text-anchor="middle" fill="#1a1a1a" textLength="13" lengthAdjust="spacingAndGlyphs">−600</text>
<line x1="248.37" y1="400.3" x2="248.37" y2="399" stroke="#8a8a8a" stroke-width="0.5"/>
<text x="249.87" y="406.1" font-size="6.93" text-anchor="middle" fill="#1a1a1a" textLength="13" lengthAdjust="spacingAndGlyphs">−500</text>
<line x1="272.93" y1="400.3" x2="272.93" y2="399" stroke="#8a8a8a" stroke-width="0.5"/>
<text x="274.43" y="406.1" font-size="6.93" text-anchor="middle" fill="#1a1a1a" textLength="13" lengthAdjust="spacingAndGlyphs">−400</text>
<line x1="297.5" y1="400.3" x2="297.5" y2="399" stroke="#8a8a8a" stroke-width="0.5"/>
<text x="299" y="406.1" font-size="6.93" text-anchor="middle" fill="#1a1a1a" textLength="13" lengthAdjust="spacingAndGlyphs">−300</text>
<line x1="322.07" y1="400.3" x2="322.07" y2="399" stroke="#8a8a8a" stroke-width="0.5"/>
<text x="323.57" y="406.1" font-size="6.93" text-anchor="middle" fill="#1a1a1a" textLength="13" lengthAdjust="spacingAndGlyphs">−200</text>
<line x1="346.63" y1="400.3" x2="346.63" y2="399" stroke="#8a8a8a" stroke-width="0.5"/>
<text x="348.13" y="406.1" font-size="6.93" text-anchor="middle" fill="#1a1a1a" textLength="13" lengthAdjust="spacingAndGlyphs">−100</text>
<line x1="371.2" y1="400.3" x2="371.2" y2="399" stroke="#8a8a8a" stroke-width="0.5"/>
<text x="372.7" y="406.1" font-size="6.93" text-anchor="middle" fill="#1a1a1a" textLength="3.15" lengthAdjust="spacingAndGlyphs">0</text>
<line x1="224.4" y1="388.8" x2="357.3" y2="354.6" stroke="#262626" stroke-width="0.8"/>
<rect x="223.8" y="390.8" width="3.2" height="3.2" fill="#1F6FC0"/>
<rect x="232.3" y="390.8" width="3.2" height="3.2" fill="#1F6FC0"/>
<rect x="239.8" y="382.8" width="3.2" height="3.2" fill="#1F6FC0"/>
<rect x="243.9" y="378" width="3.2" height="3.2" fill="#1F6FC0"/>
<rect x="247.7" y="382.3" width="3.2" height="3.2" fill="#1F6FC0"/>
<rect x="251.4" y="370.5" width="3.2" height="3.2" fill="#1F6FC0"/>
<rect x="267.3" y="382.4" width="3.2" height="3.2" fill="#1F6FC0"/>
<rect x="272.3" y="378.3" width="3.2" height="3.2" fill="#1F6FC0"/>
<rect x="278.9" y="370.1" width="3.2" height="3.2" fill="#1F6FC0"/>
<rect x="295.4" y="360.5" width="3.2" height="3.2" fill="#1F6FC0"/>
<rect x="308.7" y="359" width="3.2" height="3.2" fill="#1F6FC0"/>
<rect x="320.6" y="355.4" width="3.2" height="3.2" fill="#1F6FC0"/>
<rect x="329.2" y="360.6" width="3.2" height="3.2" fill="#1F6FC0"/>
<rect x="340.6" y="359.9" width="3.2" height="3.2" fill="#1F6FC0"/>
<rect x="355.7" y="362.3" width="3.2" height="3.2" fill="#1F6FC0"/>
<text x="232.9" y="358.3" font-size="6.44" text-anchor="start" fill="#1a1a1a" textLength="38.59" lengthAdjust="spacingAndGlyphs">Pearson's r: 0.88</text>
<text x="202.3" y="402.4" font-size="6.6" text-anchor="start" fill="#1a1a1a" transform="rotate(-90 202.3 402.4)" textLength="61.83" lengthAdjust="spacingAndGlyphs">SBAS-InSAR cumulative</text>
<text x="208.6" y="399.1" font-size="6.6" text-anchor="start" fill="#1a1a1a" transform="rotate(-90 208.6 399.1)" textLength="37.33" lengthAdjust="spacingAndGlyphs">subsidence/mm</text>
<text x="301.6" y="411.2" font-size="6.38" text-anchor="middle" fill="#1a1a1a" textLength="85.36" lengthAdjust="spacingAndGlyphs">Leveling cumulative subsidence/mm</text>
<line x1="223.8" y1="420.3" x2="223.8" y2="466.7" stroke="#999" stroke-width="0.65"/>
<line x1="223.8" y1="466.7" x2="371.4" y2="466.7" stroke="#999" stroke-width="0.65"/>
<line x1="223.8" y1="420.3" x2="225.1" y2="420.3" stroke="#999" stroke-width="0.5"/>
<text x="223" y="420.3" font-size="6.93" text-anchor="end" fill="#1a1a1a" textLength="9.45" lengthAdjust="spacingAndGlyphs">100</text>
<line x1="223.8" y1="427.98" x2="225.1" y2="427.98" stroke="#999" stroke-width="0.5"/>
<text x="222.4" y="427.98" font-size="6.93" text-anchor="end" fill="#1a1a1a" textLength="3.15" lengthAdjust="spacingAndGlyphs">0</text>
<line x1="223.8" y1="435.67" x2="225.1" y2="435.67" stroke="#999" stroke-width="0.5"/>
<text x="223.6" y="435.67" font-size="6.93" text-anchor="end" fill="#1a1a1a" textLength="13" lengthAdjust="spacingAndGlyphs">−100</text>
<line x1="223.8" y1="443.35" x2="225.1" y2="443.35" stroke="#999" stroke-width="0.5"/>
<text x="223.6" y="443.35" font-size="6.93" text-anchor="end" fill="#1a1a1a" textLength="13" lengthAdjust="spacingAndGlyphs">−200</text>
<line x1="223.8" y1="451.03" x2="225.1" y2="451.03" stroke="#999" stroke-width="0.5"/>
<text x="223.6" y="451.03" font-size="6.93" text-anchor="end" fill="#1a1a1a" textLength="13" lengthAdjust="spacingAndGlyphs">−300</text>
<line x1="223.8" y1="458.72" x2="225.1" y2="458.72" stroke="#999" stroke-width="0.5"/>
<text x="223.6" y="458.72" font-size="6.93" text-anchor="end" fill="#1a1a1a" textLength="13" lengthAdjust="spacingAndGlyphs">−400</text>
<text x="223.6" y="466.4" font-size="6.93" text-anchor="end" fill="#1a1a1a" textLength="13" lengthAdjust="spacingAndGlyphs">−500</text>
<line x1="223.8" y1="466.7" x2="223.8" y2="465.4" stroke="#8a8a8a" stroke-width="0.5"/>
<text x="225.3" y="472.5" font-size="6.93" text-anchor="middle" fill="#1a1a1a" textLength="13" lengthAdjust="spacingAndGlyphs">−900</text>
<line x1="242.25" y1="466.7" x2="242.25" y2="465.4" stroke="#8a8a8a" stroke-width="0.5"/>
<text x="243.75" y="472.5" font-size="6.93" text-anchor="middle" fill="#1a1a1a" textLength="13" lengthAdjust="spacingAndGlyphs">−800</text>
<line x1="260.7" y1="466.7" x2="260.7" y2="465.4" stroke="#8a8a8a" stroke-width="0.5"/>
<text x="262.2" y="472.5" font-size="6.93" text-anchor="middle" fill="#1a1a1a" textLength="13" lengthAdjust="spacingAndGlyphs">−700</text>
<line x1="279.15" y1="466.7" x2="279.15" y2="465.4" stroke="#8a8a8a" stroke-width="0.5"/>
<text x="280.65" y="472.5" font-size="6.93" text-anchor="middle" fill="#1a1a1a" textLength="13" lengthAdjust="spacingAndGlyphs">−600</text>
<line x1="297.6" y1="466.7" x2="297.6" y2="465.4" stroke="#8a8a8a" stroke-width="0.5"/>
<text x="299.1" y="472.5" font-size="6.93" text-anchor="middle" fill="#1a1a1a" textLength="13" lengthAdjust="spacingAndGlyphs">−500</text>
<line x1="316.05" y1="466.7" x2="316.05" y2="465.4" stroke="#8a8a8a" stroke-width="0.5"/>
<text x="317.55" y="472.5" font-size="6.93" text-anchor="middle" fill="#1a1a1a" textLength="13" lengthAdjust="spacingAndGlyphs">−400</text>
<line x1="334.5" y1="466.7" x2="334.5" y2="465.4" stroke="#8a8a8a" stroke-width="0.5"/>
<text x="336" y="472.5" font-size="6.93" text-anchor="middle" fill="#1a1a1a" textLength="13" lengthAdjust="spacingAndGlyphs">−300</text>
<line x1="352.95" y1="466.7" x2="352.95" y2="465.4" stroke="#8a8a8a" stroke-width="0.5"/>
<text x="354.45" y="472.5" font-size="6.93" text-anchor="middle" fill="#1a1a1a" textLength="13" lengthAdjust="spacingAndGlyphs">−200</text>
<line x1="371.4" y1="466.7" x2="371.4" y2="465.4" stroke="#8a8a8a" stroke-width="0.5"/>
<text x="372.9" y="472.5" font-size="6.93" text-anchor="middle" fill="#1a1a1a" textLength="13" lengthAdjust="spacingAndGlyphs">−100</text>
<line x1="228" y1="459.8" x2="368.1" y2="425.6" stroke="#262626" stroke-width="0.8"/>
<path d="M227 459.77L229.25 463.82L224.75 463.82Z" fill="#C0282D"/>
<path d="M229.2 459.37L231.45 463.42L226.95 463.42Z" fill="#C0282D"/>
<path d="M231.4 459.77L233.65 463.82L229.15 463.82Z" fill="#C0282D"/>
<path d="M233.2 459.17L235.45 463.22L230.95 463.22Z" fill="#C0282D"/>
<path d="M235.6 456.97L237.85 461.02L233.35 461.02Z" fill="#C0282D"/>
<path d="M238 455.17L240.25 459.22L235.75 459.22Z" fill="#C0282D"/>
<path d="M239.9 453.87L242.15 457.92L237.65 457.92Z" fill="#C0282D"/>
<path d="M248.5 451.47L250.75 455.52L246.25 455.52Z" fill="#C0282D"/>
<path d="M250.9 449.67L253.15 453.72L248.65 453.72Z" fill="#C0282D"/>
<path d="M257.1 446.87L259.35 450.92L254.85 450.92Z" fill="#C0282D"/>
<path d="M282.5 438.27L284.75 442.32L280.25 442.32Z" fill="#C0282D"/>
<path d="M309.4 433.67L311.65 437.72L307.15 437.72Z" fill="#C0282D"/>
<path d="M329.8 432.47L332.05 436.52L327.55 436.52Z" fill="#C0282D"/>
<path d="M334.6 429.47L336.85 433.52L332.35 433.52Z" fill="#C0282D"/>
<path d="M346.2 427.67L348.45 431.72L343.95 431.72Z" fill="#C0282D"/>
<path d="M368.1 427.37L370.35 431.42L365.85 431.42Z" fill="#C0282D"/>
<text x="232.9" y="424.2" font-size="6.44" text-anchor="start" fill="#1a1a1a" textLength="38.59" lengthAdjust="spacingAndGlyphs">Pearson's r: 0.98</text>
<text x="201.9" y="466.7" font-size="6.6" text-anchor="start" fill="#1a1a1a" transform="rotate(-90 201.9 466.7)" textLength="51.16" lengthAdjust="spacingAndGlyphs">D-InSAR cumulative</text>
<text x="208.3" y="463.7" font-size="6.6" text-anchor="start" fill="#1a1a1a" transform="rotate(-90 208.3 463.7)" textLength="37.33" lengthAdjust="spacingAndGlyphs">subsidence/mm</text>
<text x="301.6" y="476.6" font-size="6.38" text-anchor="middle" fill="#1a1a1a" textLength="85.36" lengthAdjust="spacingAndGlyphs">Leveling cumulative subsidence/mm</text>
<line x1="223.8" y1="487.1" x2="223.8" y2="533.3" stroke="#999" stroke-width="0.65"/>
<line x1="223.8" y1="533.3" x2="371.4" y2="533.3" stroke="#999" stroke-width="0.65"/>
<line x1="223.8" y1="487.1" x2="225.1" y2="487.1" stroke="#999" stroke-width="0.5"/>
<text x="223" y="487.1" font-size="6.93" text-anchor="end" fill="#1a1a1a" textLength="6.3" lengthAdjust="spacingAndGlyphs">50</text>
<line x1="223.8" y1="498.7" x2="225.1" y2="498.7" stroke="#999" stroke-width="0.5"/>
<text x="222.4" y="498.7" font-size="6.93" text-anchor="end" fill="#1a1a1a" textLength="3.15" lengthAdjust="spacingAndGlyphs">0</text>
<line x1="223.8" y1="510.3" x2="225.1" y2="510.3" stroke="#999" stroke-width="0.5"/>
<text x="223.6" y="510.3" font-size="6.93" text-anchor="end" fill="#1a1a1a" textLength="9.85" lengthAdjust="spacingAndGlyphs">−50</text>
<line x1="223.8" y1="521.9" x2="225.1" y2="521.9" stroke="#999" stroke-width="0.5"/>
<text x="223.6" y="521.9" font-size="6.93" text-anchor="end" fill="#1a1a1a" textLength="13" lengthAdjust="spacingAndGlyphs">−100</text>
<text x="223.6" y="533.5" font-size="6.93" text-anchor="end" fill="#1a1a1a" textLength="13" lengthAdjust="spacingAndGlyphs">−150</text>
<line x1="223.8" y1="533.3" x2="223.8" y2="532" stroke="#8a8a8a" stroke-width="0.5"/>
<text x="225.3" y="539.1" font-size="6.93" text-anchor="middle" fill="#1a1a1a" textLength="13" lengthAdjust="spacingAndGlyphs">−900</text>
<line x1="242.25" y1="533.3" x2="242.25" y2="532" stroke="#8a8a8a" stroke-width="0.5"/>
<text x="243.75" y="539.1" font-size="6.93" text-anchor="middle" fill="#1a1a1a" textLength="13" lengthAdjust="spacingAndGlyphs">−800</text>
<line x1="260.7" y1="533.3" x2="260.7" y2="532" stroke="#8a8a8a" stroke-width="0.5"/>
<text x="262.2" y="539.1" font-size="6.93" text-anchor="middle" fill="#1a1a1a" textLength="13" lengthAdjust="spacingAndGlyphs">−700</text>
<line x1="279.15" y1="533.3" x2="279.15" y2="532" stroke="#8a8a8a" stroke-width="0.5"/>
<text x="280.65" y="539.1" font-size="6.93" text-anchor="middle" fill="#1a1a1a" textLength="13" lengthAdjust="spacingAndGlyphs">−600</text>
<line x1="297.6" y1="533.3" x2="297.6" y2="532" stroke="#8a8a8a" stroke-width="0.5"/>
<text x="299.1" y="539.1" font-size="6.93" text-anchor="middle" fill="#1a1a1a" textLength="13" lengthAdjust="spacingAndGlyphs">−500</text>
<line x1="316.05" y1="533.3" x2="316.05" y2="532" stroke="#8a8a8a" stroke-width="0.5"/>
<text x="317.55" y="539.1" font-size="6.93" text-anchor="middle" fill="#1a1a1a" textLength="13" lengthAdjust="spacingAndGlyphs">−400</text>
<line x1="334.5" y1="533.3" x2="334.5" y2="532" stroke="#8a8a8a" stroke-width="0.5"/>
<text x="336" y="539.1" font-size="6.93" text-anchor="middle" fill="#1a1a1a" textLength="13" lengthAdjust="spacingAndGlyphs">−300</text>
<line x1="352.95" y1="533.3" x2="352.95" y2="532" stroke="#8a8a8a" stroke-width="0.5"/>
<text x="354.45" y="539.1" font-size="6.93" text-anchor="middle" fill="#1a1a1a" textLength="13" lengthAdjust="spacingAndGlyphs">−200</text>
<line x1="371.4" y1="533.3" x2="371.4" y2="532" stroke="#8a8a8a" stroke-width="0.5"/>
<text x="372.9" y="539.1" font-size="6.93" text-anchor="middle" fill="#1a1a1a" textLength="13" lengthAdjust="spacingAndGlyphs">−100</text>
<line x1="227.8" y1="524.8" x2="368.1" y2="493.9" stroke="#262626" stroke-width="0.8"/>
<rect x="225.5" y="531.1" width="3.2" height="3.2" fill="#1F6FC0"/>
<rect x="227.2" y="530.1" width="3.2" height="3.2" fill="#1F6FC0"/>
<rect x="228.7" y="530.6" width="3.2" height="3.2" fill="#1F6FC0"/>
<rect x="230.9" y="531.4" width="3.2" height="3.2" fill="#1F6FC0"/>
<rect x="233.8" y="519.8" width="3.2" height="3.2" fill="#1F6FC0"/>
<rect x="236.4" y="522.9" width="3.2" height="3.2" fill="#1F6FC0"/>
<rect x="238.6" y="522.2" width="3.2" height="3.2" fill="#1F6FC0"/>
<rect x="246.6" y="510.9" width="3.2" height="3.2" fill="#1F6FC0"/>
<rect x="248.9" y="510.9" width="3.2" height="3.2" fill="#1F6FC0"/>
<rect x="255.7" y="506.7" width="3.2" height="3.2" fill="#1F6FC0"/>
<rect x="280.8" y="505.8" width="3.2" height="3.2" fill="#1F6FC0"/>
<rect x="308" y="506.5" width="3.2" height="3.2" fill="#1F6FC0"/>
<rect x="327.8" y="501.5" width="3.2" height="3.2" fill="#1F6FC0"/>
<rect x="332.8" y="499.9" width="3.2" height="3.2" fill="#1F6FC0"/>
<rect x="345" y="496.6" width="3.2" height="3.2" fill="#1F6FC0"/>
<rect x="366.5" y="498.2" width="3.2" height="3.2" fill="#1F6FC0"/>
<text x="232.9" y="492.5" font-size="6.44" text-anchor="start" fill="#1a1a1a" textLength="38.59" lengthAdjust="spacingAndGlyphs">Pearson's r: 0.88</text>
<text x="202" y="538.8" font-size="6.6" text-anchor="start" fill="#1a1a1a" transform="rotate(-90 202 538.8)" textLength="61.83" lengthAdjust="spacingAndGlyphs">SBAS-InSAR cumulative</text>
<text x="207.9" y="533" font-size="6.6" text-anchor="start" fill="#1a1a1a" transform="rotate(-90 207.9 533)" textLength="37.33" lengthAdjust="spacingAndGlyphs">subsidence/mm</text>
<text x="301.6" y="544" font-size="6.38" text-anchor="middle" fill="#1a1a1a" textLength="85.36" lengthAdjust="spacingAndGlyphs">Leveling cumulative subsidence/mm</text>
</svg></body></html>
